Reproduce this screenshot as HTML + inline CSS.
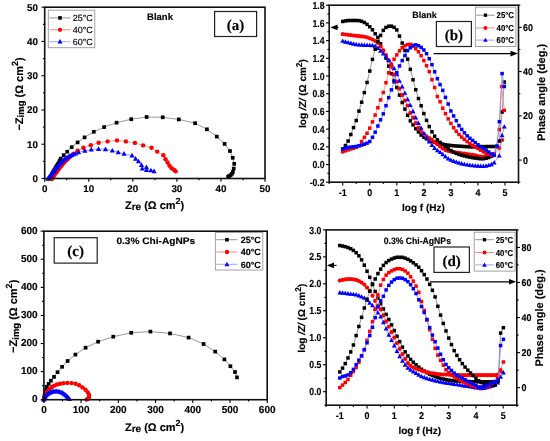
<!DOCTYPE html>
<html><head><meta charset="utf-8"><style>
html,body{margin:0;padding:0;background:#fff;}
svg{display:block;filter:blur(0.5px);}
text{stroke:#000;stroke-width:0.15px;text-rendering:geometricPrecision;}
</style></head><body>
<svg width="550" height="441" viewBox="0 0 550 441">
<rect width="550" height="441" fill="#fff"/>
<path d="M49.59 178.40L50.35 177.00L51.12 175.60L51.89 174.20L52.65 172.80L53.42 171.40L54.29 170.00L55.15 168.50L56.02 167.00L56.98 165.50L57.95 164.00L59.01 162.40L59.78 160.60L60.78 158.60L63.70 155.20L67.20 151.70L71.70 147.20L77.60 142.40L84.60 137.40L93.80 131.80L104.10 127.10L116.60 122.70L131.20 119.20L146.60 117.00L162.70 117.30L178.80 119.40L195.10 123.20L206.90 129.30L216.80 136.60L224.60 143.90L230.00 151.00L232.70 157.80L234.20 163.80L233.70 168.60L232.90 171.90L231.90 173.80L230.50 175.20L229.00 176.20L228.10 176.80" fill="none" stroke="#777" stroke-width="0.75"/>
<rect x="47.74" y="176.55" width="3.70" height="3.70" fill="#000"/>
<rect x="48.50" y="175.15" width="3.70" height="3.70" fill="#000"/>
<rect x="49.27" y="173.75" width="3.70" height="3.70" fill="#000"/>
<rect x="50.04" y="172.35" width="3.70" height="3.70" fill="#000"/>
<rect x="50.80" y="170.95" width="3.70" height="3.70" fill="#000"/>
<rect x="51.57" y="169.55" width="3.70" height="3.70" fill="#000"/>
<rect x="52.44" y="168.15" width="3.70" height="3.70" fill="#000"/>
<rect x="53.30" y="166.65" width="3.70" height="3.70" fill="#000"/>
<rect x="54.17" y="165.15" width="3.70" height="3.70" fill="#000"/>
<rect x="55.13" y="163.65" width="3.70" height="3.70" fill="#000"/>
<rect x="56.10" y="162.15" width="3.70" height="3.70" fill="#000"/>
<rect x="57.16" y="160.55" width="3.70" height="3.70" fill="#000"/>
<rect x="57.93" y="158.75" width="3.70" height="3.70" fill="#000"/>
<rect x="58.93" y="156.75" width="3.70" height="3.70" fill="#000"/>
<rect x="61.85" y="153.35" width="3.70" height="3.70" fill="#000"/>
<rect x="65.35" y="149.85" width="3.70" height="3.70" fill="#000"/>
<rect x="69.85" y="145.35" width="3.70" height="3.70" fill="#000"/>
<rect x="75.75" y="140.55" width="3.70" height="3.70" fill="#000"/>
<rect x="82.75" y="135.55" width="3.70" height="3.70" fill="#000"/>
<rect x="91.95" y="129.95" width="3.70" height="3.70" fill="#000"/>
<rect x="102.25" y="125.25" width="3.70" height="3.70" fill="#000"/>
<rect x="114.75" y="120.85" width="3.70" height="3.70" fill="#000"/>
<rect x="129.35" y="117.35" width="3.70" height="3.70" fill="#000"/>
<rect x="144.75" y="115.15" width="3.70" height="3.70" fill="#000"/>
<rect x="160.85" y="115.45" width="3.70" height="3.70" fill="#000"/>
<rect x="176.95" y="117.55" width="3.70" height="3.70" fill="#000"/>
<rect x="193.25" y="121.35" width="3.70" height="3.70" fill="#000"/>
<rect x="205.05" y="127.45" width="3.70" height="3.70" fill="#000"/>
<rect x="214.95" y="134.75" width="3.70" height="3.70" fill="#000"/>
<rect x="222.75" y="142.05" width="3.70" height="3.70" fill="#000"/>
<rect x="228.15" y="149.15" width="3.70" height="3.70" fill="#000"/>
<rect x="230.85" y="155.95" width="3.70" height="3.70" fill="#000"/>
<rect x="232.35" y="161.95" width="3.70" height="3.70" fill="#000"/>
<rect x="231.85" y="166.75" width="3.70" height="3.70" fill="#000"/>
<rect x="231.05" y="170.05" width="3.70" height="3.70" fill="#000"/>
<rect x="230.05" y="171.95" width="3.70" height="3.70" fill="#000"/>
<rect x="228.65" y="173.35" width="3.70" height="3.70" fill="#000"/>
<rect x="227.15" y="174.35" width="3.70" height="3.70" fill="#000"/>
<rect x="226.25" y="174.95" width="3.70" height="3.70" fill="#000"/>
<path d="M51.80 179.00L52.60 177.70L53.50 176.30L54.40 175.00L55.40 173.60L56.40 172.20L57.50 170.80L58.60 169.30L59.70 167.80L60.90 166.30L62.10 164.80L63.40 163.30L64.80 161.80L66.30 160.30L67.90 158.80L69.60 157.20L71.50 155.60L73.80 153.60L77.60 150.60L83.40 147.70L90.80 145.30L98.60 142.80L107.60 141.40L117.00 140.40L125.90 141.40L134.90 142.90L143.20 145.40L151.50 147.80L157.20 151.60L163.30 155.30L165.50 159.20L167.60 162.50L169.50 165.70L171.60 168.20L173.90 169.80L175.60 171.30" fill="none" stroke="#f77" stroke-width="0.75"/>
<circle cx="51.80" cy="179.00" r="2.22" fill="#f00"/>
<circle cx="52.60" cy="177.70" r="2.22" fill="#f00"/>
<circle cx="53.50" cy="176.30" r="2.22" fill="#f00"/>
<circle cx="54.40" cy="175.00" r="2.22" fill="#f00"/>
<circle cx="55.40" cy="173.60" r="2.22" fill="#f00"/>
<circle cx="56.40" cy="172.20" r="2.22" fill="#f00"/>
<circle cx="57.50" cy="170.80" r="2.22" fill="#f00"/>
<circle cx="58.60" cy="169.30" r="2.22" fill="#f00"/>
<circle cx="59.70" cy="167.80" r="2.22" fill="#f00"/>
<circle cx="60.90" cy="166.30" r="2.22" fill="#f00"/>
<circle cx="62.10" cy="164.80" r="2.22" fill="#f00"/>
<circle cx="63.40" cy="163.30" r="2.22" fill="#f00"/>
<circle cx="64.80" cy="161.80" r="2.22" fill="#f00"/>
<circle cx="66.30" cy="160.30" r="2.22" fill="#f00"/>
<circle cx="67.90" cy="158.80" r="2.22" fill="#f00"/>
<circle cx="69.60" cy="157.20" r="2.22" fill="#f00"/>
<circle cx="71.50" cy="155.60" r="2.22" fill="#f00"/>
<circle cx="73.80" cy="153.60" r="2.22" fill="#f00"/>
<circle cx="77.60" cy="150.60" r="2.22" fill="#f00"/>
<circle cx="83.40" cy="147.70" r="2.22" fill="#f00"/>
<circle cx="90.80" cy="145.30" r="2.22" fill="#f00"/>
<circle cx="98.60" cy="142.80" r="2.22" fill="#f00"/>
<circle cx="107.60" cy="141.40" r="2.22" fill="#f00"/>
<circle cx="117.00" cy="140.40" r="2.22" fill="#f00"/>
<circle cx="125.90" cy="141.40" r="2.22" fill="#f00"/>
<circle cx="134.90" cy="142.90" r="2.22" fill="#f00"/>
<circle cx="143.20" cy="145.40" r="2.22" fill="#f00"/>
<circle cx="151.50" cy="147.80" r="2.22" fill="#f00"/>
<circle cx="157.20" cy="151.60" r="2.22" fill="#f00"/>
<circle cx="163.30" cy="155.30" r="2.22" fill="#f00"/>
<circle cx="165.50" cy="159.20" r="2.22" fill="#f00"/>
<circle cx="167.60" cy="162.50" r="2.22" fill="#f00"/>
<circle cx="169.50" cy="165.70" r="2.22" fill="#f00"/>
<circle cx="171.60" cy="168.20" r="2.22" fill="#f00"/>
<circle cx="173.90" cy="169.80" r="2.22" fill="#f00"/>
<circle cx="175.60" cy="171.30" r="2.22" fill="#f00"/>
<path d="M47.90 178.70L48.90 177.60L50.00 176.50L50.70 175.40L51.50 174.30L52.30 173.10L53.10 172.00L53.90 170.80L54.80 169.70L55.70 168.50L56.60 167.40L57.50 166.20L58.50 165.10L59.50 163.90L60.60 162.80L61.70 161.70" fill="none" stroke="#00f" stroke-width="2.8" stroke-linecap="round" stroke-linejoin="round"/>
<path d="M47.90 178.70L48.90 177.60L50.00 176.50L50.70 175.40L51.50 174.30L52.30 173.10L53.10 172.00L53.90 170.80L54.80 169.70L55.70 168.50L56.60 167.40L57.50 166.20L58.50 165.10L59.50 163.90L60.60 162.80L61.70 161.70L62.90 160.60L64.10 159.60L65.40 158.60L66.80 157.60L68.30 156.70L69.90 155.90L71.60 155.10L73.40 154.40L75.60 153.60L78.60 152.40L84.90 150.80L91.30 149.60L98.50 149.00L105.50 149.20L112.30 150.60L118.20 152.20L124.00 153.80L132.00 155.50L135.60 158.70L138.50 161.40L141.50 165.00L142.20 168.60L146.50 167.20L146.50 170.10L150.90 170.40L154.10 171.30" fill="none" stroke="#77f" stroke-width="0.75"/>
<path d="M47.90 175.99L50.49 180.66L45.31 180.66Z" fill="#00f"/>
<path d="M48.90 174.89L51.49 179.56L46.31 179.56Z" fill="#00f"/>
<path d="M50.00 173.79L52.59 178.46L47.41 178.46Z" fill="#00f"/>
<path d="M50.70 172.69L53.29 177.36L48.11 177.36Z" fill="#00f"/>
<path d="M51.50 171.59L54.09 176.26L48.91 176.26Z" fill="#00f"/>
<path d="M52.30 170.39L54.89 175.06L49.71 175.06Z" fill="#00f"/>
<path d="M53.10 169.29L55.69 173.96L50.51 173.96Z" fill="#00f"/>
<path d="M53.90 168.09L56.49 172.76L51.31 172.76Z" fill="#00f"/>
<path d="M54.80 166.99L57.39 171.66L52.21 171.66Z" fill="#00f"/>
<path d="M55.70 165.79L58.29 170.46L53.11 170.46Z" fill="#00f"/>
<path d="M56.60 164.69L59.19 169.36L54.01 169.36Z" fill="#00f"/>
<path d="M57.50 163.49L60.09 168.16L54.91 168.16Z" fill="#00f"/>
<path d="M58.50 162.39L61.09 167.06L55.91 167.06Z" fill="#00f"/>
<path d="M59.50 161.19L62.09 165.86L56.91 165.86Z" fill="#00f"/>
<path d="M60.60 160.09L63.19 164.76L58.01 164.76Z" fill="#00f"/>
<path d="M61.70 158.99L64.29 163.66L59.11 163.66Z" fill="#00f"/>
<path d="M62.90 157.89L65.49 162.56L60.31 162.56Z" fill="#00f"/>
<path d="M64.10 156.89L66.69 161.56L61.51 161.56Z" fill="#00f"/>
<path d="M65.40 155.89L67.99 160.56L62.81 160.56Z" fill="#00f"/>
<path d="M66.80 154.89L69.39 159.56L64.21 159.56Z" fill="#00f"/>
<path d="M68.30 153.99L70.89 158.66L65.71 158.66Z" fill="#00f"/>
<path d="M69.90 153.19L72.49 157.86L67.31 157.86Z" fill="#00f"/>
<path d="M71.60 152.39L74.19 157.06L69.01 157.06Z" fill="#00f"/>
<path d="M73.40 151.69L75.99 156.36L70.81 156.36Z" fill="#00f"/>
<path d="M75.60 150.89L78.19 155.56L73.01 155.56Z" fill="#00f"/>
<path d="M78.60 149.69L81.19 154.36L76.01 154.36Z" fill="#00f"/>
<path d="M84.90 148.09L87.49 152.76L82.31 152.76Z" fill="#00f"/>
<path d="M91.30 146.89L93.89 151.56L88.71 151.56Z" fill="#00f"/>
<path d="M98.50 146.29L101.09 150.96L95.91 150.96Z" fill="#00f"/>
<path d="M105.50 146.49L108.09 151.16L102.91 151.16Z" fill="#00f"/>
<path d="M112.30 147.89L114.89 152.56L109.71 152.56Z" fill="#00f"/>
<path d="M118.20 149.49L120.79 154.16L115.61 154.16Z" fill="#00f"/>
<path d="M124.00 151.09L126.59 155.76L121.41 155.76Z" fill="#00f"/>
<path d="M132.00 152.79L134.59 157.46L129.41 157.46Z" fill="#00f"/>
<path d="M135.60 155.99L138.19 160.66L133.01 160.66Z" fill="#00f"/>
<path d="M138.50 158.69L141.09 163.36L135.91 163.36Z" fill="#00f"/>
<path d="M141.50 162.29L144.09 166.96L138.91 166.96Z" fill="#00f"/>
<path d="M142.20 165.89L144.79 170.56L139.61 170.56Z" fill="#00f"/>
<path d="M146.50 164.49L149.09 169.16L143.91 169.16Z" fill="#00f"/>
<path d="M146.50 167.39L149.09 172.06L143.91 172.06Z" fill="#00f"/>
<path d="M150.90 167.69L153.49 172.36L148.31 172.36Z" fill="#00f"/>
<path d="M154.10 168.59L156.69 173.26L151.51 173.26Z" fill="#00f"/>
<path d="M43.80 399.50L44.20 397.20L44.70 394.80L45.30 392.30L46.00 389.60L46.80 386.70L48.70 383.80L50.90 380.70L54.00 376.90L57.50 372.20L62.10 366.80L67.60 361.00L75.40 354.60L85.60 347.70L98.10 341.70L113.30 336.70L131.20 332.80L150.40 331.60L170.00 333.40L188.60 337.60L203.60 344.00L215.20 351.60L224.40 359.40L230.40 366.20L235.00 372.00L237.00 377.40" fill="none" stroke="#777" stroke-width="0.75"/>
<rect x="41.95" y="397.65" width="3.70" height="3.70" fill="#000"/>
<rect x="42.35" y="395.35" width="3.70" height="3.70" fill="#000"/>
<rect x="42.85" y="392.95" width="3.70" height="3.70" fill="#000"/>
<rect x="43.45" y="390.45" width="3.70" height="3.70" fill="#000"/>
<rect x="44.15" y="387.75" width="3.70" height="3.70" fill="#000"/>
<rect x="44.95" y="384.85" width="3.70" height="3.70" fill="#000"/>
<rect x="46.85" y="381.95" width="3.70" height="3.70" fill="#000"/>
<rect x="49.05" y="378.85" width="3.70" height="3.70" fill="#000"/>
<rect x="52.15" y="375.05" width="3.70" height="3.70" fill="#000"/>
<rect x="55.65" y="370.35" width="3.70" height="3.70" fill="#000"/>
<rect x="60.25" y="364.95" width="3.70" height="3.70" fill="#000"/>
<rect x="65.75" y="359.15" width="3.70" height="3.70" fill="#000"/>
<rect x="73.55" y="352.75" width="3.70" height="3.70" fill="#000"/>
<rect x="83.75" y="345.85" width="3.70" height="3.70" fill="#000"/>
<rect x="96.25" y="339.85" width="3.70" height="3.70" fill="#000"/>
<rect x="111.45" y="334.85" width="3.70" height="3.70" fill="#000"/>
<rect x="129.35" y="330.95" width="3.70" height="3.70" fill="#000"/>
<rect x="148.55" y="329.75" width="3.70" height="3.70" fill="#000"/>
<rect x="168.15" y="331.55" width="3.70" height="3.70" fill="#000"/>
<rect x="186.75" y="335.75" width="3.70" height="3.70" fill="#000"/>
<rect x="201.75" y="342.15" width="3.70" height="3.70" fill="#000"/>
<rect x="213.35" y="349.75" width="3.70" height="3.70" fill="#000"/>
<rect x="222.55" y="357.55" width="3.70" height="3.70" fill="#000"/>
<rect x="228.55" y="364.35" width="3.70" height="3.70" fill="#000"/>
<rect x="233.15" y="370.15" width="3.70" height="3.70" fill="#000"/>
<rect x="235.15" y="375.55" width="3.70" height="3.70" fill="#000"/>
<path d="M44.00 399.20L44.60 397.00L45.50 394.80L46.70 392.60L48.20 390.50L50.00 388.60L52.00 387.00L54.30 385.60L57.00 384.50L60.00 383.70L63.30 383.20L67.30 382.90L71.50 383.10L75.50 383.80L79.20 385.30L82.50 387.40L85.50 389.80L87.80 392.40L89.10 395.00L89.00 397.30L87.90 398.80L86.50 399.60" fill="none" stroke="#f77" stroke-width="0.75"/>
<circle cx="44.00" cy="399.20" r="2.22" fill="#f00"/>
<circle cx="44.60" cy="397.00" r="2.22" fill="#f00"/>
<circle cx="45.50" cy="394.80" r="2.22" fill="#f00"/>
<circle cx="46.70" cy="392.60" r="2.22" fill="#f00"/>
<circle cx="48.20" cy="390.50" r="2.22" fill="#f00"/>
<circle cx="50.00" cy="388.60" r="2.22" fill="#f00"/>
<circle cx="52.00" cy="387.00" r="2.22" fill="#f00"/>
<circle cx="54.30" cy="385.60" r="2.22" fill="#f00"/>
<circle cx="57.00" cy="384.50" r="2.22" fill="#f00"/>
<circle cx="60.00" cy="383.70" r="2.22" fill="#f00"/>
<circle cx="63.30" cy="383.20" r="2.22" fill="#f00"/>
<circle cx="67.30" cy="382.90" r="2.22" fill="#f00"/>
<circle cx="71.50" cy="383.10" r="2.22" fill="#f00"/>
<circle cx="75.50" cy="383.80" r="2.22" fill="#f00"/>
<circle cx="79.20" cy="385.30" r="2.22" fill="#f00"/>
<circle cx="82.50" cy="387.40" r="2.22" fill="#f00"/>
<circle cx="85.50" cy="389.80" r="2.22" fill="#f00"/>
<circle cx="87.80" cy="392.40" r="2.22" fill="#f00"/>
<circle cx="89.10" cy="395.00" r="2.22" fill="#f00"/>
<circle cx="89.00" cy="397.30" r="2.22" fill="#f00"/>
<circle cx="87.90" cy="398.80" r="2.22" fill="#f00"/>
<circle cx="86.50" cy="399.60" r="2.22" fill="#f00"/>
<path d="M43.60 399.60L44.00 398.50L44.60 397.40L45.30 396.30L46.20 395.30L47.20 394.30L48.30 393.50L49.50 392.80L50.80 392.20L52.20 391.70L53.60 391.40L55.10 391.20L56.60 391.20L58.10 391.40L59.60 391.70L61.00 392.20L62.40 392.80L63.70 393.60L64.90 394.50L66.00 395.40L67.00 396.40L67.90 397.40L68.70 398.30L69.50 399.10" fill="none" stroke="#77f" stroke-width="0.75"/>
<path d="M43.60 396.89L46.19 401.56L41.01 401.56Z" fill="#00f"/>
<path d="M44.00 395.79L46.59 400.46L41.41 400.46Z" fill="#00f"/>
<path d="M44.60 394.69L47.19 399.36L42.01 399.36Z" fill="#00f"/>
<path d="M45.30 393.59L47.89 398.26L42.71 398.26Z" fill="#00f"/>
<path d="M46.20 392.59L48.79 397.26L43.61 397.26Z" fill="#00f"/>
<path d="M47.20 391.59L49.79 396.26L44.61 396.26Z" fill="#00f"/>
<path d="M48.30 390.79L50.89 395.46L45.71 395.46Z" fill="#00f"/>
<path d="M49.50 390.09L52.09 394.76L46.91 394.76Z" fill="#00f"/>
<path d="M50.80 389.49L53.39 394.16L48.21 394.16Z" fill="#00f"/>
<path d="M52.20 388.99L54.79 393.66L49.61 393.66Z" fill="#00f"/>
<path d="M53.60 388.69L56.19 393.36L51.01 393.36Z" fill="#00f"/>
<path d="M55.10 388.49L57.69 393.16L52.51 393.16Z" fill="#00f"/>
<path d="M56.60 388.49L59.19 393.16L54.01 393.16Z" fill="#00f"/>
<path d="M58.10 388.69L60.69 393.36L55.51 393.36Z" fill="#00f"/>
<path d="M59.60 388.99L62.19 393.66L57.01 393.66Z" fill="#00f"/>
<path d="M61.00 389.49L63.59 394.16L58.41 394.16Z" fill="#00f"/>
<path d="M62.40 390.09L64.99 394.76L59.81 394.76Z" fill="#00f"/>
<path d="M63.70 390.89L66.29 395.56L61.11 395.56Z" fill="#00f"/>
<path d="M64.90 391.79L67.49 396.46L62.31 396.46Z" fill="#00f"/>
<path d="M66.00 392.69L68.59 397.36L63.41 397.36Z" fill="#00f"/>
<path d="M67.00 393.69L69.59 398.36L64.41 398.36Z" fill="#00f"/>
<path d="M67.90 394.69L70.49 399.36L65.31 399.36Z" fill="#00f"/>
<path d="M68.70 395.59L71.29 400.26L66.11 400.26Z" fill="#00f"/>
<path d="M69.50 396.39L72.09 401.06L66.91 401.06Z" fill="#00f"/>
<path d="M342.72 21.46L345.43 20.90L348.13 20.55L350.83 20.50L353.54 20.50L356.24 20.50L358.95 20.62L361.65 21.34L364.36 22.51L367.06 24.39L369.76 26.76L372.47 29.86L375.17 33.78L377.88 37.45L380.58 43.78L383.29 50.70L385.99 58.10L388.69 66.14L391.40 73.70L394.10 80.54L396.81 87.48L399.51 95.12L402.22 102.53L404.92 109.10L407.62 115.27L410.33 120.85L413.03 124.79L415.74 128.67L418.44 131.97L421.15 135.09L423.85 137.13L426.55 138.84L429.26 140.28L431.96 141.46L434.67 142.41L437.37 143.15L440.08 143.75L442.78 144.28L445.48 144.77L448.19 145.16L450.89 145.47L453.60 145.73L456.30 145.95L459.01 146.14L461.71 146.34L464.41 146.53L467.12 146.69L469.82 146.82L472.53 146.89L475.23 146.89L477.94 146.85L480.64 146.76L483.34 146.67L486.05 146.58L488.75 146.52L491.46 146.50L494.16 146.53L496.87 146.60" fill="none" stroke="#777" stroke-width="0.75"/>
<rect x="340.97" y="19.71" width="3.50" height="3.50" fill="#000"/>
<rect x="343.68" y="19.15" width="3.50" height="3.50" fill="#000"/>
<rect x="346.38" y="18.80" width="3.50" height="3.50" fill="#000"/>
<rect x="349.08" y="18.75" width="3.50" height="3.50" fill="#000"/>
<rect x="351.79" y="18.75" width="3.50" height="3.50" fill="#000"/>
<rect x="354.49" y="18.75" width="3.50" height="3.50" fill="#000"/>
<rect x="357.20" y="18.87" width="3.50" height="3.50" fill="#000"/>
<rect x="359.90" y="19.59" width="3.50" height="3.50" fill="#000"/>
<rect x="362.61" y="20.76" width="3.50" height="3.50" fill="#000"/>
<rect x="365.31" y="22.64" width="3.50" height="3.50" fill="#000"/>
<rect x="368.01" y="25.01" width="3.50" height="3.50" fill="#000"/>
<rect x="370.72" y="28.11" width="3.50" height="3.50" fill="#000"/>
<rect x="373.42" y="32.03" width="3.50" height="3.50" fill="#000"/>
<rect x="376.13" y="35.70" width="3.50" height="3.50" fill="#000"/>
<rect x="378.83" y="42.03" width="3.50" height="3.50" fill="#000"/>
<rect x="381.54" y="48.95" width="3.50" height="3.50" fill="#000"/>
<rect x="384.24" y="56.35" width="3.50" height="3.50" fill="#000"/>
<rect x="386.94" y="64.39" width="3.50" height="3.50" fill="#000"/>
<rect x="389.65" y="71.95" width="3.50" height="3.50" fill="#000"/>
<rect x="392.35" y="78.79" width="3.50" height="3.50" fill="#000"/>
<rect x="395.06" y="85.73" width="3.50" height="3.50" fill="#000"/>
<rect x="397.76" y="93.37" width="3.50" height="3.50" fill="#000"/>
<rect x="400.47" y="100.78" width="3.50" height="3.50" fill="#000"/>
<rect x="403.17" y="107.35" width="3.50" height="3.50" fill="#000"/>
<rect x="405.87" y="113.52" width="3.50" height="3.50" fill="#000"/>
<rect x="408.58" y="119.10" width="3.50" height="3.50" fill="#000"/>
<rect x="411.28" y="123.04" width="3.50" height="3.50" fill="#000"/>
<rect x="413.99" y="126.92" width="3.50" height="3.50" fill="#000"/>
<rect x="416.69" y="130.22" width="3.50" height="3.50" fill="#000"/>
<rect x="419.40" y="133.34" width="3.50" height="3.50" fill="#000"/>
<rect x="422.10" y="135.38" width="3.50" height="3.50" fill="#000"/>
<rect x="424.80" y="137.09" width="3.50" height="3.50" fill="#000"/>
<rect x="427.51" y="138.53" width="3.50" height="3.50" fill="#000"/>
<rect x="430.21" y="139.71" width="3.50" height="3.50" fill="#000"/>
<rect x="432.92" y="140.66" width="3.50" height="3.50" fill="#000"/>
<rect x="435.62" y="141.40" width="3.50" height="3.50" fill="#000"/>
<rect x="438.33" y="142.00" width="3.50" height="3.50" fill="#000"/>
<rect x="441.03" y="142.53" width="3.50" height="3.50" fill="#000"/>
<rect x="443.73" y="143.02" width="3.50" height="3.50" fill="#000"/>
<rect x="446.44" y="143.41" width="3.50" height="3.50" fill="#000"/>
<rect x="449.14" y="143.72" width="3.50" height="3.50" fill="#000"/>
<rect x="451.85" y="143.98" width="3.50" height="3.50" fill="#000"/>
<rect x="454.55" y="144.20" width="3.50" height="3.50" fill="#000"/>
<rect x="457.26" y="144.39" width="3.50" height="3.50" fill="#000"/>
<rect x="459.96" y="144.59" width="3.50" height="3.50" fill="#000"/>
<rect x="462.66" y="144.78" width="3.50" height="3.50" fill="#000"/>
<rect x="465.37" y="144.94" width="3.50" height="3.50" fill="#000"/>
<rect x="468.07" y="145.07" width="3.50" height="3.50" fill="#000"/>
<rect x="470.78" y="145.14" width="3.50" height="3.50" fill="#000"/>
<rect x="473.48" y="145.14" width="3.50" height="3.50" fill="#000"/>
<rect x="476.19" y="145.10" width="3.50" height="3.50" fill="#000"/>
<rect x="478.89" y="145.01" width="3.50" height="3.50" fill="#000"/>
<rect x="481.59" y="144.92" width="3.50" height="3.50" fill="#000"/>
<rect x="484.30" y="144.83" width="3.50" height="3.50" fill="#000"/>
<rect x="487.00" y="144.77" width="3.50" height="3.50" fill="#000"/>
<rect x="489.71" y="144.75" width="3.50" height="3.50" fill="#000"/>
<rect x="492.41" y="144.78" width="3.50" height="3.50" fill="#000"/>
<rect x="495.12" y="144.85" width="3.50" height="3.50" fill="#000"/>
<path d="M342.72 34.14L345.43 34.49L348.13 34.84L350.83 35.18L353.54 35.51L356.24 35.83L358.95 36.15L361.65 36.44L364.36 36.77L367.06 37.33L369.76 38.28L372.47 39.48L375.17 41.02L377.88 43.00L380.58 46.40L383.29 50.25L385.99 54.98L388.69 60.44L391.40 66.97L394.10 74.63L396.81 81.57L399.51 88.54L402.22 95.13L404.92 100.59L407.62 105.48L410.33 112.97L413.03 117.65L415.74 123.16L418.44 127.80L421.15 131.09L423.85 134.01L426.55 136.36L429.26 138.07L431.96 139.97L434.67 142.01L437.37 144.21L440.08 146.46L442.78 148.44L445.48 150.09L448.19 150.98L450.89 151.58L453.60 152.07L456.30 152.48L459.01 152.86L461.71 153.26L464.41 153.67L467.12 154.09L469.82 154.50L472.53 154.93L475.23 155.42L477.94 156.00L480.64 156.51L483.34 156.79L486.05 156.72L488.75 156.39L491.46 155.89L494.16 154.67L499.40 148.00L502.10 140.00" fill="none" stroke="#f77" stroke-width="0.75"/>
<circle cx="342.72" cy="34.14" r="2.10" fill="#f00"/>
<circle cx="345.43" cy="34.49" r="2.10" fill="#f00"/>
<circle cx="348.13" cy="34.84" r="2.10" fill="#f00"/>
<circle cx="350.83" cy="35.18" r="2.10" fill="#f00"/>
<circle cx="353.54" cy="35.51" r="2.10" fill="#f00"/>
<circle cx="356.24" cy="35.83" r="2.10" fill="#f00"/>
<circle cx="358.95" cy="36.15" r="2.10" fill="#f00"/>
<circle cx="361.65" cy="36.44" r="2.10" fill="#f00"/>
<circle cx="364.36" cy="36.77" r="2.10" fill="#f00"/>
<circle cx="367.06" cy="37.33" r="2.10" fill="#f00"/>
<circle cx="369.76" cy="38.28" r="2.10" fill="#f00"/>
<circle cx="372.47" cy="39.48" r="2.10" fill="#f00"/>
<circle cx="375.17" cy="41.02" r="2.10" fill="#f00"/>
<circle cx="377.88" cy="43.00" r="2.10" fill="#f00"/>
<circle cx="380.58" cy="46.40" r="2.10" fill="#f00"/>
<circle cx="383.29" cy="50.25" r="2.10" fill="#f00"/>
<circle cx="385.99" cy="54.98" r="2.10" fill="#f00"/>
<circle cx="388.69" cy="60.44" r="2.10" fill="#f00"/>
<circle cx="391.40" cy="66.97" r="2.10" fill="#f00"/>
<circle cx="394.10" cy="74.63" r="2.10" fill="#f00"/>
<circle cx="396.81" cy="81.57" r="2.10" fill="#f00"/>
<circle cx="399.51" cy="88.54" r="2.10" fill="#f00"/>
<circle cx="402.22" cy="95.13" r="2.10" fill="#f00"/>
<circle cx="404.92" cy="100.59" r="2.10" fill="#f00"/>
<circle cx="407.62" cy="105.48" r="2.10" fill="#f00"/>
<circle cx="410.33" cy="112.97" r="2.10" fill="#f00"/>
<circle cx="413.03" cy="117.65" r="2.10" fill="#f00"/>
<circle cx="415.74" cy="123.16" r="2.10" fill="#f00"/>
<circle cx="418.44" cy="127.80" r="2.10" fill="#f00"/>
<circle cx="421.15" cy="131.09" r="2.10" fill="#f00"/>
<circle cx="423.85" cy="134.01" r="2.10" fill="#f00"/>
<circle cx="426.55" cy="136.36" r="2.10" fill="#f00"/>
<circle cx="429.26" cy="138.07" r="2.10" fill="#f00"/>
<circle cx="431.96" cy="139.97" r="2.10" fill="#f00"/>
<circle cx="434.67" cy="142.01" r="2.10" fill="#f00"/>
<circle cx="437.37" cy="144.21" r="2.10" fill="#f00"/>
<circle cx="440.08" cy="146.46" r="2.10" fill="#f00"/>
<circle cx="442.78" cy="148.44" r="2.10" fill="#f00"/>
<circle cx="445.48" cy="150.09" r="2.10" fill="#f00"/>
<circle cx="448.19" cy="150.98" r="2.10" fill="#f00"/>
<circle cx="450.89" cy="151.58" r="2.10" fill="#f00"/>
<circle cx="453.60" cy="152.07" r="2.10" fill="#f00"/>
<circle cx="456.30" cy="152.48" r="2.10" fill="#f00"/>
<circle cx="459.01" cy="152.86" r="2.10" fill="#f00"/>
<circle cx="461.71" cy="153.26" r="2.10" fill="#f00"/>
<circle cx="464.41" cy="153.67" r="2.10" fill="#f00"/>
<circle cx="467.12" cy="154.09" r="2.10" fill="#f00"/>
<circle cx="469.82" cy="154.50" r="2.10" fill="#f00"/>
<circle cx="472.53" cy="154.93" r="2.10" fill="#f00"/>
<circle cx="475.23" cy="155.42" r="2.10" fill="#f00"/>
<circle cx="477.94" cy="156.00" r="2.10" fill="#f00"/>
<circle cx="480.64" cy="156.51" r="2.10" fill="#f00"/>
<circle cx="483.34" cy="156.79" r="2.10" fill="#f00"/>
<circle cx="486.05" cy="156.72" r="2.10" fill="#f00"/>
<circle cx="488.75" cy="156.39" r="2.10" fill="#f00"/>
<circle cx="491.46" cy="155.89" r="2.10" fill="#f00"/>
<circle cx="494.16" cy="154.67" r="2.10" fill="#f00"/>
<circle cx="499.40" cy="148.00" r="2.10" fill="#f00"/>
<circle cx="502.10" cy="140.00" r="2.10" fill="#f00"/>
<path d="M342.72 41.01L345.43 41.79L348.13 42.50L350.83 43.14L353.54 43.79L356.24 44.36L358.95 44.75L361.65 44.92L364.36 45.03L367.06 45.12L369.76 45.24L372.47 45.37L375.17 45.97L377.88 48.04L380.58 50.78L383.29 53.74L385.99 56.87L388.69 60.29L391.40 63.95L394.10 68.32L396.81 74.41L399.51 80.94L402.22 86.55L404.92 92.99L407.62 99.38L410.33 105.24L413.03 111.40L415.74 117.58L418.44 123.14L421.15 128.00L423.85 133.23L426.55 137.54L429.26 141.70L431.96 145.12L434.67 148.07L437.37 150.50L440.08 152.21L442.78 154.28L445.48 156.64L448.19 158.63L450.89 159.96L453.60 161.05L456.30 161.98L459.01 162.81L461.71 163.56L464.41 164.19L467.12 164.69L469.82 165.12L472.53 165.46L475.23 165.70L477.94 165.92L480.64 166.07L483.34 166.08L486.05 165.78L488.75 165.23L491.46 164.28L494.16 162.57L499.30 155.70L502.10 135.30L504.30 126.70" fill="none" stroke="#77f" stroke-width="0.75"/>
<path d="M342.72 38.45L345.17 42.87L340.27 42.87Z" fill="#00f"/>
<path d="M345.43 39.23L347.88 43.65L342.98 43.65Z" fill="#00f"/>
<path d="M348.13 39.94L350.58 44.36L345.68 44.36Z" fill="#00f"/>
<path d="M350.83 40.58L353.28 45.00L348.38 45.00Z" fill="#00f"/>
<path d="M353.54 41.23L355.99 45.64L351.09 45.64Z" fill="#00f"/>
<path d="M356.24 41.80L358.69 46.22L353.79 46.22Z" fill="#00f"/>
<path d="M358.95 42.18L361.40 46.60L356.50 46.60Z" fill="#00f"/>
<path d="M361.65 42.36L364.10 46.78L359.20 46.78Z" fill="#00f"/>
<path d="M364.36 42.47L366.81 46.89L361.91 46.89Z" fill="#00f"/>
<path d="M367.06 42.56L369.51 46.98L364.61 46.98Z" fill="#00f"/>
<path d="M369.76 42.68L372.21 47.10L367.31 47.10Z" fill="#00f"/>
<path d="M372.47 42.81L374.92 47.23L370.02 47.23Z" fill="#00f"/>
<path d="M375.17 43.41L377.62 47.83L372.72 47.83Z" fill="#00f"/>
<path d="M377.88 45.48L380.33 49.90L375.43 49.90Z" fill="#00f"/>
<path d="M380.58 48.22L383.03 52.64L378.13 52.64Z" fill="#00f"/>
<path d="M383.29 51.18L385.74 55.60L380.84 55.60Z" fill="#00f"/>
<path d="M385.99 54.31L388.44 58.73L383.54 58.73Z" fill="#00f"/>
<path d="M388.69 57.72L391.14 62.14L386.24 62.14Z" fill="#00f"/>
<path d="M391.40 61.39L393.85 65.81L388.95 65.81Z" fill="#00f"/>
<path d="M394.10 65.76L396.55 70.18L391.65 70.18Z" fill="#00f"/>
<path d="M396.81 71.85L399.26 76.27L394.36 76.27Z" fill="#00f"/>
<path d="M399.51 78.38L401.96 82.80L397.06 82.80Z" fill="#00f"/>
<path d="M402.22 83.99L404.67 88.41L399.77 88.41Z" fill="#00f"/>
<path d="M404.92 90.43L407.37 94.85L402.47 94.85Z" fill="#00f"/>
<path d="M407.62 96.82L410.07 101.24L405.17 101.24Z" fill="#00f"/>
<path d="M410.33 102.68L412.78 107.10L407.88 107.10Z" fill="#00f"/>
<path d="M413.03 108.84L415.48 113.26L410.58 113.26Z" fill="#00f"/>
<path d="M415.74 115.02L418.19 119.44L413.29 119.44Z" fill="#00f"/>
<path d="M418.44 120.57L420.89 124.99L415.99 124.99Z" fill="#00f"/>
<path d="M421.15 125.44L423.60 129.86L418.70 129.86Z" fill="#00f"/>
<path d="M423.85 130.67L426.30 135.08L421.40 135.08Z" fill="#00f"/>
<path d="M426.55 134.98L429.00 139.40L424.10 139.40Z" fill="#00f"/>
<path d="M429.26 139.13L431.71 143.55L426.81 143.55Z" fill="#00f"/>
<path d="M431.96 142.56L434.41 146.98L429.51 146.98Z" fill="#00f"/>
<path d="M434.67 145.51L437.12 149.93L432.22 149.93Z" fill="#00f"/>
<path d="M437.37 147.94L439.82 152.36L434.92 152.36Z" fill="#00f"/>
<path d="M440.08 149.65L442.53 154.07L437.63 154.07Z" fill="#00f"/>
<path d="M442.78 151.72L445.23 156.14L440.33 156.14Z" fill="#00f"/>
<path d="M445.48 154.08L447.93 158.50L443.03 158.50Z" fill="#00f"/>
<path d="M448.19 156.07L450.64 160.48L445.74 160.48Z" fill="#00f"/>
<path d="M450.89 157.40L453.34 161.82L448.44 161.82Z" fill="#00f"/>
<path d="M453.60 158.49L456.05 162.91L451.15 162.91Z" fill="#00f"/>
<path d="M456.30 159.42L458.75 163.84L453.85 163.84Z" fill="#00f"/>
<path d="M459.01 160.25L461.46 164.67L456.56 164.67Z" fill="#00f"/>
<path d="M461.71 161.00L464.16 165.42L459.26 165.42Z" fill="#00f"/>
<path d="M464.41 161.63L466.86 166.05L461.96 166.05Z" fill="#00f"/>
<path d="M467.12 162.13L469.57 166.55L464.67 166.55Z" fill="#00f"/>
<path d="M469.82 162.56L472.27 166.97L467.37 166.97Z" fill="#00f"/>
<path d="M472.53 162.90L474.98 167.32L470.08 167.32Z" fill="#00f"/>
<path d="M475.23 163.14L477.68 167.56L472.78 167.56Z" fill="#00f"/>
<path d="M477.94 163.36L480.39 167.78L475.49 167.78Z" fill="#00f"/>
<path d="M480.64 163.50L483.09 167.92L478.19 167.92Z" fill="#00f"/>
<path d="M483.34 163.52L485.79 167.94L480.89 167.94Z" fill="#00f"/>
<path d="M486.05 163.22L488.50 167.63L483.60 167.63Z" fill="#00f"/>
<path d="M488.75 162.67L491.20 167.09L486.30 167.09Z" fill="#00f"/>
<path d="M491.46 161.72L493.91 166.14L489.01 166.14Z" fill="#00f"/>
<path d="M494.16 160.01L496.61 164.42L491.71 164.42Z" fill="#00f"/>
<path d="M499.30 153.14L501.75 157.56L496.85 157.56Z" fill="#00f"/>
<path d="M502.10 132.74L504.55 137.16L499.65 137.16Z" fill="#00f"/>
<path d="M504.30 124.14L506.75 128.56L501.85 128.56Z" fill="#00f"/>
<path d="M342.72 148.96L345.43 145.51L348.13 141.04L350.83 134.52L353.54 127.63L356.24 120.53L358.95 111.11L361.65 102.20L364.36 92.60L367.06 82.45L369.76 71.05L372.47 59.41L375.17 49.24L377.88 41.60L380.58 35.42L383.29 30.35L385.99 27.46L388.69 26.24L391.40 26.17L394.10 27.35L396.81 29.94L399.51 36.13L402.22 43.04L404.92 50.42L407.62 59.18L410.33 69.35L413.03 79.73L415.74 89.74L418.44 98.53L421.15 105.78L423.85 113.60L426.55 120.36L429.26 126.58L431.96 131.83L434.67 136.19L437.37 139.77L440.08 142.39L442.78 144.51L445.48 146.55L448.19 148.78L450.89 150.55L453.60 152.12L456.30 153.42L459.01 154.42L461.71 155.23L464.41 155.94L467.12 156.58L469.82 157.17L472.53 157.68L475.23 158.08L477.94 158.46L480.64 158.73L483.34 158.76L486.05 158.29L488.75 157.54L491.46 156.23L494.16 153.92L499.40 141.00L502.10 112.00L504.30 82.00" fill="none" stroke="#777" stroke-width="0.75"/>
<rect x="340.97" y="147.21" width="3.50" height="3.50" fill="#000"/>
<rect x="343.68" y="143.76" width="3.50" height="3.50" fill="#000"/>
<rect x="346.38" y="139.29" width="3.50" height="3.50" fill="#000"/>
<rect x="349.08" y="132.77" width="3.50" height="3.50" fill="#000"/>
<rect x="351.79" y="125.88" width="3.50" height="3.50" fill="#000"/>
<rect x="354.49" y="118.78" width="3.50" height="3.50" fill="#000"/>
<rect x="357.20" y="109.36" width="3.50" height="3.50" fill="#000"/>
<rect x="359.90" y="100.45" width="3.50" height="3.50" fill="#000"/>
<rect x="362.61" y="90.85" width="3.50" height="3.50" fill="#000"/>
<rect x="365.31" y="80.70" width="3.50" height="3.50" fill="#000"/>
<rect x="368.01" y="69.30" width="3.50" height="3.50" fill="#000"/>
<rect x="370.72" y="57.66" width="3.50" height="3.50" fill="#000"/>
<rect x="373.42" y="47.49" width="3.50" height="3.50" fill="#000"/>
<rect x="376.13" y="39.85" width="3.50" height="3.50" fill="#000"/>
<rect x="378.83" y="33.67" width="3.50" height="3.50" fill="#000"/>
<rect x="381.54" y="28.60" width="3.50" height="3.50" fill="#000"/>
<rect x="384.24" y="25.71" width="3.50" height="3.50" fill="#000"/>
<rect x="386.94" y="24.49" width="3.50" height="3.50" fill="#000"/>
<rect x="389.65" y="24.42" width="3.50" height="3.50" fill="#000"/>
<rect x="392.35" y="25.60" width="3.50" height="3.50" fill="#000"/>
<rect x="395.06" y="28.19" width="3.50" height="3.50" fill="#000"/>
<rect x="397.76" y="34.38" width="3.50" height="3.50" fill="#000"/>
<rect x="400.47" y="41.29" width="3.50" height="3.50" fill="#000"/>
<rect x="403.17" y="48.67" width="3.50" height="3.50" fill="#000"/>
<rect x="405.87" y="57.43" width="3.50" height="3.50" fill="#000"/>
<rect x="408.58" y="67.60" width="3.50" height="3.50" fill="#000"/>
<rect x="411.28" y="77.98" width="3.50" height="3.50" fill="#000"/>
<rect x="413.99" y="87.99" width="3.50" height="3.50" fill="#000"/>
<rect x="416.69" y="96.78" width="3.50" height="3.50" fill="#000"/>
<rect x="419.40" y="104.03" width="3.50" height="3.50" fill="#000"/>
<rect x="422.10" y="111.85" width="3.50" height="3.50" fill="#000"/>
<rect x="424.80" y="118.61" width="3.50" height="3.50" fill="#000"/>
<rect x="427.51" y="124.83" width="3.50" height="3.50" fill="#000"/>
<rect x="430.21" y="130.08" width="3.50" height="3.50" fill="#000"/>
<rect x="432.92" y="134.44" width="3.50" height="3.50" fill="#000"/>
<rect x="435.62" y="138.02" width="3.50" height="3.50" fill="#000"/>
<rect x="438.33" y="140.64" width="3.50" height="3.50" fill="#000"/>
<rect x="441.03" y="142.76" width="3.50" height="3.50" fill="#000"/>
<rect x="443.73" y="144.80" width="3.50" height="3.50" fill="#000"/>
<rect x="446.44" y="147.03" width="3.50" height="3.50" fill="#000"/>
<rect x="449.14" y="148.80" width="3.50" height="3.50" fill="#000"/>
<rect x="451.85" y="150.37" width="3.50" height="3.50" fill="#000"/>
<rect x="454.55" y="151.67" width="3.50" height="3.50" fill="#000"/>
<rect x="457.26" y="152.67" width="3.50" height="3.50" fill="#000"/>
<rect x="459.96" y="153.48" width="3.50" height="3.50" fill="#000"/>
<rect x="462.66" y="154.19" width="3.50" height="3.50" fill="#000"/>
<rect x="465.37" y="154.83" width="3.50" height="3.50" fill="#000"/>
<rect x="468.07" y="155.42" width="3.50" height="3.50" fill="#000"/>
<rect x="470.78" y="155.93" width="3.50" height="3.50" fill="#000"/>
<rect x="473.48" y="156.33" width="3.50" height="3.50" fill="#000"/>
<rect x="476.19" y="156.71" width="3.50" height="3.50" fill="#000"/>
<rect x="478.89" y="156.98" width="3.50" height="3.50" fill="#000"/>
<rect x="481.59" y="157.01" width="3.50" height="3.50" fill="#000"/>
<rect x="484.30" y="156.54" width="3.50" height="3.50" fill="#000"/>
<rect x="487.00" y="155.79" width="3.50" height="3.50" fill="#000"/>
<rect x="489.71" y="154.48" width="3.50" height="3.50" fill="#000"/>
<rect x="492.41" y="152.17" width="3.50" height="3.50" fill="#000"/>
<rect x="497.65" y="139.25" width="3.50" height="3.50" fill="#000"/>
<rect x="500.35" y="110.25" width="3.50" height="3.50" fill="#000"/>
<rect x="502.55" y="80.25" width="3.50" height="3.50" fill="#000"/>
<path d="M342.72 151.82L345.43 150.85L348.13 149.90L350.83 148.99L353.54 148.24L356.24 147.26L358.95 145.68L361.65 141.52L364.36 137.33L367.06 133.27L369.76 128.16L372.47 121.89L375.17 115.07L377.88 107.73L380.58 99.92L383.29 92.51L385.99 82.75L388.69 72.82L391.40 64.77L394.10 59.20L396.81 54.94L399.51 50.85L402.22 47.64L404.92 45.73L407.62 44.56L410.33 44.37L413.03 46.34L415.74 48.74L418.44 51.80L421.15 55.71L423.85 60.59L426.55 65.70L429.26 71.69L431.96 79.68L434.67 87.51L437.37 96.56L440.08 101.71L442.78 108.19L445.48 113.67L448.19 118.86L450.89 123.37L453.60 127.64L456.30 131.26L459.01 134.50L461.71 137.07L464.41 139.37L467.12 141.55L469.82 143.54L472.53 145.34L475.23 146.91L477.94 148.52L480.64 150.20L483.34 151.85L486.05 153.24L488.75 154.32L491.46 155.22L494.16 154.77L499.30 129.60L501.60 86.50L504.30 110.40" fill="none" stroke="#f77" stroke-width="0.75"/>
<rect x="340.97" y="150.07" width="3.50" height="3.50" fill="#f00"/>
<rect x="343.68" y="149.10" width="3.50" height="3.50" fill="#f00"/>
<rect x="346.38" y="148.15" width="3.50" height="3.50" fill="#f00"/>
<rect x="349.08" y="147.24" width="3.50" height="3.50" fill="#f00"/>
<rect x="351.79" y="146.49" width="3.50" height="3.50" fill="#f00"/>
<rect x="354.49" y="145.51" width="3.50" height="3.50" fill="#f00"/>
<rect x="357.20" y="143.93" width="3.50" height="3.50" fill="#f00"/>
<rect x="359.90" y="139.77" width="3.50" height="3.50" fill="#f00"/>
<rect x="362.61" y="135.58" width="3.50" height="3.50" fill="#f00"/>
<rect x="365.31" y="131.52" width="3.50" height="3.50" fill="#f00"/>
<rect x="368.01" y="126.41" width="3.50" height="3.50" fill="#f00"/>
<rect x="370.72" y="120.14" width="3.50" height="3.50" fill="#f00"/>
<rect x="373.42" y="113.32" width="3.50" height="3.50" fill="#f00"/>
<rect x="376.13" y="105.98" width="3.50" height="3.50" fill="#f00"/>
<rect x="378.83" y="98.17" width="3.50" height="3.50" fill="#f00"/>
<rect x="381.54" y="90.76" width="3.50" height="3.50" fill="#f00"/>
<rect x="384.24" y="81.00" width="3.50" height="3.50" fill="#f00"/>
<rect x="386.94" y="71.07" width="3.50" height="3.50" fill="#f00"/>
<rect x="389.65" y="63.02" width="3.50" height="3.50" fill="#f00"/>
<rect x="392.35" y="57.45" width="3.50" height="3.50" fill="#f00"/>
<rect x="395.06" y="53.19" width="3.50" height="3.50" fill="#f00"/>
<rect x="397.76" y="49.10" width="3.50" height="3.50" fill="#f00"/>
<rect x="400.47" y="45.89" width="3.50" height="3.50" fill="#f00"/>
<rect x="403.17" y="43.98" width="3.50" height="3.50" fill="#f00"/>
<rect x="405.87" y="42.81" width="3.50" height="3.50" fill="#f00"/>
<rect x="408.58" y="42.62" width="3.50" height="3.50" fill="#f00"/>
<rect x="411.28" y="44.59" width="3.50" height="3.50" fill="#f00"/>
<rect x="413.99" y="46.99" width="3.50" height="3.50" fill="#f00"/>
<rect x="416.69" y="50.05" width="3.50" height="3.50" fill="#f00"/>
<rect x="419.40" y="53.96" width="3.50" height="3.50" fill="#f00"/>
<rect x="422.10" y="58.84" width="3.50" height="3.50" fill="#f00"/>
<rect x="424.80" y="63.95" width="3.50" height="3.50" fill="#f00"/>
<rect x="427.51" y="69.94" width="3.50" height="3.50" fill="#f00"/>
<rect x="430.21" y="77.93" width="3.50" height="3.50" fill="#f00"/>
<rect x="432.92" y="85.76" width="3.50" height="3.50" fill="#f00"/>
<rect x="435.62" y="94.81" width="3.50" height="3.50" fill="#f00"/>
<rect x="438.33" y="99.96" width="3.50" height="3.50" fill="#f00"/>
<rect x="441.03" y="106.44" width="3.50" height="3.50" fill="#f00"/>
<rect x="443.73" y="111.92" width="3.50" height="3.50" fill="#f00"/>
<rect x="446.44" y="117.11" width="3.50" height="3.50" fill="#f00"/>
<rect x="449.14" y="121.62" width="3.50" height="3.50" fill="#f00"/>
<rect x="451.85" y="125.89" width="3.50" height="3.50" fill="#f00"/>
<rect x="454.55" y="129.51" width="3.50" height="3.50" fill="#f00"/>
<rect x="457.26" y="132.75" width="3.50" height="3.50" fill="#f00"/>
<rect x="459.96" y="135.32" width="3.50" height="3.50" fill="#f00"/>
<rect x="462.66" y="137.62" width="3.50" height="3.50" fill="#f00"/>
<rect x="465.37" y="139.80" width="3.50" height="3.50" fill="#f00"/>
<rect x="468.07" y="141.79" width="3.50" height="3.50" fill="#f00"/>
<rect x="470.78" y="143.59" width="3.50" height="3.50" fill="#f00"/>
<rect x="473.48" y="145.16" width="3.50" height="3.50" fill="#f00"/>
<rect x="476.19" y="146.77" width="3.50" height="3.50" fill="#f00"/>
<rect x="478.89" y="148.45" width="3.50" height="3.50" fill="#f00"/>
<rect x="481.59" y="150.10" width="3.50" height="3.50" fill="#f00"/>
<rect x="484.30" y="151.49" width="3.50" height="3.50" fill="#f00"/>
<rect x="487.00" y="152.57" width="3.50" height="3.50" fill="#f00"/>
<rect x="489.71" y="153.47" width="3.50" height="3.50" fill="#f00"/>
<rect x="492.41" y="153.02" width="3.50" height="3.50" fill="#f00"/>
<rect x="497.55" y="127.85" width="3.50" height="3.50" fill="#f00"/>
<rect x="499.85" y="84.75" width="3.50" height="3.50" fill="#f00"/>
<rect x="502.55" y="108.65" width="3.50" height="3.50" fill="#f00"/>
<path d="M342.72 149.07L345.43 147.94L348.13 147.45L350.83 147.09L353.54 146.78L356.24 146.44L358.95 145.88L361.65 145.09L364.36 144.20L367.06 143.14L369.76 141.56L372.47 137.30L375.17 132.17L377.88 126.05L380.58 119.84L383.29 113.85L385.99 105.73L388.69 97.65L391.40 89.83L394.10 81.80L396.81 72.80L399.51 65.94L402.22 60.57L404.92 55.52L407.62 50.56L410.33 47.75L413.03 45.40L415.74 44.90L418.44 45.70L421.15 47.38L423.85 50.00L426.55 53.62L429.26 58.73L431.96 64.69L434.67 71.77L437.37 78.72L440.08 84.59L442.78 90.36L445.48 97.37L448.19 104.01L450.89 110.97L453.60 115.94L456.30 120.68L459.01 125.61L461.71 129.39L464.41 132.84L467.12 135.81L469.82 138.28L472.53 140.37L475.23 142.58L477.94 144.69L480.64 146.49L483.34 148.26L486.05 150.03L488.75 152.00L491.46 153.97L494.16 155.31L497.00 146.00L499.30 121.70L502.10 73.60L504.30 86.50" fill="none" stroke="#77f" stroke-width="0.75"/>
<rect x="340.97" y="147.32" width="3.50" height="3.50" fill="#00f"/>
<rect x="343.68" y="146.19" width="3.50" height="3.50" fill="#00f"/>
<rect x="346.38" y="145.70" width="3.50" height="3.50" fill="#00f"/>
<rect x="349.08" y="145.34" width="3.50" height="3.50" fill="#00f"/>
<rect x="351.79" y="145.03" width="3.50" height="3.50" fill="#00f"/>
<rect x="354.49" y="144.69" width="3.50" height="3.50" fill="#00f"/>
<rect x="357.20" y="144.13" width="3.50" height="3.50" fill="#00f"/>
<rect x="359.90" y="143.34" width="3.50" height="3.50" fill="#00f"/>
<rect x="362.61" y="142.45" width="3.50" height="3.50" fill="#00f"/>
<rect x="365.31" y="141.39" width="3.50" height="3.50" fill="#00f"/>
<rect x="368.01" y="139.81" width="3.50" height="3.50" fill="#00f"/>
<rect x="370.72" y="135.55" width="3.50" height="3.50" fill="#00f"/>
<rect x="373.42" y="130.42" width="3.50" height="3.50" fill="#00f"/>
<rect x="376.13" y="124.30" width="3.50" height="3.50" fill="#00f"/>
<rect x="378.83" y="118.09" width="3.50" height="3.50" fill="#00f"/>
<rect x="381.54" y="112.10" width="3.50" height="3.50" fill="#00f"/>
<rect x="384.24" y="103.98" width="3.50" height="3.50" fill="#00f"/>
<rect x="386.94" y="95.90" width="3.50" height="3.50" fill="#00f"/>
<rect x="389.65" y="88.08" width="3.50" height="3.50" fill="#00f"/>
<rect x="392.35" y="80.05" width="3.50" height="3.50" fill="#00f"/>
<rect x="395.06" y="71.05" width="3.50" height="3.50" fill="#00f"/>
<rect x="397.76" y="64.19" width="3.50" height="3.50" fill="#00f"/>
<rect x="400.47" y="58.82" width="3.50" height="3.50" fill="#00f"/>
<rect x="403.17" y="53.77" width="3.50" height="3.50" fill="#00f"/>
<rect x="405.87" y="48.81" width="3.50" height="3.50" fill="#00f"/>
<rect x="408.58" y="46.00" width="3.50" height="3.50" fill="#00f"/>
<rect x="411.28" y="43.65" width="3.50" height="3.50" fill="#00f"/>
<rect x="413.99" y="43.15" width="3.50" height="3.50" fill="#00f"/>
<rect x="416.69" y="43.95" width="3.50" height="3.50" fill="#00f"/>
<rect x="419.40" y="45.63" width="3.50" height="3.50" fill="#00f"/>
<rect x="422.10" y="48.25" width="3.50" height="3.50" fill="#00f"/>
<rect x="424.80" y="51.87" width="3.50" height="3.50" fill="#00f"/>
<rect x="427.51" y="56.98" width="3.50" height="3.50" fill="#00f"/>
<rect x="430.21" y="62.94" width="3.50" height="3.50" fill="#00f"/>
<rect x="432.92" y="70.02" width="3.50" height="3.50" fill="#00f"/>
<rect x="435.62" y="76.97" width="3.50" height="3.50" fill="#00f"/>
<rect x="438.33" y="82.84" width="3.50" height="3.50" fill="#00f"/>
<rect x="441.03" y="88.61" width="3.50" height="3.50" fill="#00f"/>
<rect x="443.73" y="95.62" width="3.50" height="3.50" fill="#00f"/>
<rect x="446.44" y="102.26" width="3.50" height="3.50" fill="#00f"/>
<rect x="449.14" y="109.22" width="3.50" height="3.50" fill="#00f"/>
<rect x="451.85" y="114.19" width="3.50" height="3.50" fill="#00f"/>
<rect x="454.55" y="118.93" width="3.50" height="3.50" fill="#00f"/>
<rect x="457.26" y="123.86" width="3.50" height="3.50" fill="#00f"/>
<rect x="459.96" y="127.64" width="3.50" height="3.50" fill="#00f"/>
<rect x="462.66" y="131.09" width="3.50" height="3.50" fill="#00f"/>
<rect x="465.37" y="134.06" width="3.50" height="3.50" fill="#00f"/>
<rect x="468.07" y="136.53" width="3.50" height="3.50" fill="#00f"/>
<rect x="470.78" y="138.62" width="3.50" height="3.50" fill="#00f"/>
<rect x="473.48" y="140.83" width="3.50" height="3.50" fill="#00f"/>
<rect x="476.19" y="142.94" width="3.50" height="3.50" fill="#00f"/>
<rect x="478.89" y="144.74" width="3.50" height="3.50" fill="#00f"/>
<rect x="481.59" y="146.51" width="3.50" height="3.50" fill="#00f"/>
<rect x="484.30" y="148.28" width="3.50" height="3.50" fill="#00f"/>
<rect x="487.00" y="150.25" width="3.50" height="3.50" fill="#00f"/>
<rect x="489.71" y="152.22" width="3.50" height="3.50" fill="#00f"/>
<rect x="492.41" y="153.56" width="3.50" height="3.50" fill="#00f"/>
<rect x="495.25" y="144.25" width="3.50" height="3.50" fill="#00f"/>
<rect x="497.55" y="119.95" width="3.50" height="3.50" fill="#00f"/>
<rect x="500.35" y="71.85" width="3.50" height="3.50" fill="#00f"/>
<rect x="502.55" y="84.75" width="3.50" height="3.50" fill="#00f"/>
<path d="M339.81 245.51L342.54 246.03L345.26 246.70L347.98 247.56L350.71 248.72L353.43 250.41L356.15 252.72L358.87 255.81L361.60 259.83L364.32 265.13L367.04 271.27L369.77 277.30L372.49 283.97L375.21 291.49L377.93 298.06L380.66 303.74L383.38 308.95L386.10 314.37L388.83 319.47L391.55 324.86L394.27 330.55L396.99 336.22L399.72 341.64L402.44 347.12L405.16 351.86L407.89 355.95L410.61 359.41L413.33 362.25L416.05 364.79L418.78 367.18L421.50 369.27L424.22 371.10L426.95 372.72L429.67 374.17L432.39 375.49L435.11 376.62L437.84 377.56L440.56 378.36L443.28 379.05L446.01 379.65L448.73 380.13L451.45 380.50L454.17 380.82L456.90 381.09L459.62 381.28L462.34 381.42L465.07 381.55L467.79 381.66L470.51 381.74L473.23 381.79L475.96 381.80L478.68 381.80L481.40 381.80L484.13 381.80L486.85 381.80L489.57 381.80L492.29 381.72L495.02 381.49" fill="none" stroke="#777" stroke-width="0.75"/>
<rect x="338.06" y="243.76" width="3.50" height="3.50" fill="#000"/>
<rect x="340.79" y="244.28" width="3.50" height="3.50" fill="#000"/>
<rect x="343.51" y="244.95" width="3.50" height="3.50" fill="#000"/>
<rect x="346.23" y="245.81" width="3.50" height="3.50" fill="#000"/>
<rect x="348.96" y="246.97" width="3.50" height="3.50" fill="#000"/>
<rect x="351.68" y="248.66" width="3.50" height="3.50" fill="#000"/>
<rect x="354.40" y="250.97" width="3.50" height="3.50" fill="#000"/>
<rect x="357.12" y="254.06" width="3.50" height="3.50" fill="#000"/>
<rect x="359.85" y="258.08" width="3.50" height="3.50" fill="#000"/>
<rect x="362.57" y="263.38" width="3.50" height="3.50" fill="#000"/>
<rect x="365.29" y="269.52" width="3.50" height="3.50" fill="#000"/>
<rect x="368.02" y="275.55" width="3.50" height="3.50" fill="#000"/>
<rect x="370.74" y="282.22" width="3.50" height="3.50" fill="#000"/>
<rect x="373.46" y="289.74" width="3.50" height="3.50" fill="#000"/>
<rect x="376.18" y="296.31" width="3.50" height="3.50" fill="#000"/>
<rect x="378.91" y="301.99" width="3.50" height="3.50" fill="#000"/>
<rect x="381.63" y="307.20" width="3.50" height="3.50" fill="#000"/>
<rect x="384.35" y="312.62" width="3.50" height="3.50" fill="#000"/>
<rect x="387.08" y="317.72" width="3.50" height="3.50" fill="#000"/>
<rect x="389.80" y="323.11" width="3.50" height="3.50" fill="#000"/>
<rect x="392.52" y="328.80" width="3.50" height="3.50" fill="#000"/>
<rect x="395.24" y="334.47" width="3.50" height="3.50" fill="#000"/>
<rect x="397.97" y="339.89" width="3.50" height="3.50" fill="#000"/>
<rect x="400.69" y="345.37" width="3.50" height="3.50" fill="#000"/>
<rect x="403.41" y="350.11" width="3.50" height="3.50" fill="#000"/>
<rect x="406.14" y="354.20" width="3.50" height="3.50" fill="#000"/>
<rect x="408.86" y="357.66" width="3.50" height="3.50" fill="#000"/>
<rect x="411.58" y="360.50" width="3.50" height="3.50" fill="#000"/>
<rect x="414.30" y="363.04" width="3.50" height="3.50" fill="#000"/>
<rect x="417.03" y="365.43" width="3.50" height="3.50" fill="#000"/>
<rect x="419.75" y="367.52" width="3.50" height="3.50" fill="#000"/>
<rect x="422.47" y="369.35" width="3.50" height="3.50" fill="#000"/>
<rect x="425.20" y="370.97" width="3.50" height="3.50" fill="#000"/>
<rect x="427.92" y="372.42" width="3.50" height="3.50" fill="#000"/>
<rect x="430.64" y="373.74" width="3.50" height="3.50" fill="#000"/>
<rect x="433.36" y="374.87" width="3.50" height="3.50" fill="#000"/>
<rect x="436.09" y="375.81" width="3.50" height="3.50" fill="#000"/>
<rect x="438.81" y="376.61" width="3.50" height="3.50" fill="#000"/>
<rect x="441.53" y="377.30" width="3.50" height="3.50" fill="#000"/>
<rect x="444.26" y="377.90" width="3.50" height="3.50" fill="#000"/>
<rect x="446.98" y="378.38" width="3.50" height="3.50" fill="#000"/>
<rect x="449.70" y="378.75" width="3.50" height="3.50" fill="#000"/>
<rect x="452.42" y="379.07" width="3.50" height="3.50" fill="#000"/>
<rect x="455.15" y="379.34" width="3.50" height="3.50" fill="#000"/>
<rect x="457.87" y="379.53" width="3.50" height="3.50" fill="#000"/>
<rect x="460.59" y="379.67" width="3.50" height="3.50" fill="#000"/>
<rect x="463.32" y="379.80" width="3.50" height="3.50" fill="#000"/>
<rect x="466.04" y="379.91" width="3.50" height="3.50" fill="#000"/>
<rect x="468.76" y="379.99" width="3.50" height="3.50" fill="#000"/>
<rect x="471.48" y="380.04" width="3.50" height="3.50" fill="#000"/>
<rect x="474.21" y="380.05" width="3.50" height="3.50" fill="#000"/>
<rect x="476.93" y="380.05" width="3.50" height="3.50" fill="#000"/>
<rect x="479.65" y="380.05" width="3.50" height="3.50" fill="#000"/>
<rect x="482.38" y="380.05" width="3.50" height="3.50" fill="#000"/>
<rect x="485.10" y="380.05" width="3.50" height="3.50" fill="#000"/>
<rect x="487.82" y="380.05" width="3.50" height="3.50" fill="#000"/>
<rect x="490.54" y="379.97" width="3.50" height="3.50" fill="#000"/>
<rect x="493.27" y="379.74" width="3.50" height="3.50" fill="#000"/>
<path d="M339.81 280.59L342.54 279.89L345.26 279.42L347.98 279.07L350.71 279.03L353.43 279.34L356.15 279.89L358.87 281.05L361.60 282.49L364.32 284.62L367.04 287.61L369.77 290.94L372.49 295.63L375.21 300.89L377.93 305.48L380.66 309.43L383.38 315.46L386.10 321.37L388.83 326.75L391.55 332.20L394.27 337.64L396.99 343.14L399.72 348.79L402.44 354.21L405.16 358.97L407.89 363.17L410.61 365.78L413.33 367.52L416.05 368.65L418.78 369.60L421.50 370.59L424.22 371.48L426.95 372.18L429.67 372.79L432.39 373.30L435.11 373.69L437.84 374.03L440.56 374.31L443.28 374.49L446.01 374.58L448.73 374.64L451.45 374.70L454.17 374.83L456.90 374.99L459.62 375.13L462.34 375.20L465.07 375.20L467.79 375.20L470.51 375.20L473.23 375.20L475.96 375.20L478.68 375.20L481.40 375.20L484.13 375.20L486.85 375.20L489.57 375.20L492.29 375.20L495.02 375.17L497.74 374.57L500.60 371.50" fill="none" stroke="#f77" stroke-width="0.75"/>
<circle cx="339.81" cy="280.59" r="2.10" fill="#f00"/>
<circle cx="342.54" cy="279.89" r="2.10" fill="#f00"/>
<circle cx="345.26" cy="279.42" r="2.10" fill="#f00"/>
<circle cx="347.98" cy="279.07" r="2.10" fill="#f00"/>
<circle cx="350.71" cy="279.03" r="2.10" fill="#f00"/>
<circle cx="353.43" cy="279.34" r="2.10" fill="#f00"/>
<circle cx="356.15" cy="279.89" r="2.10" fill="#f00"/>
<circle cx="358.87" cy="281.05" r="2.10" fill="#f00"/>
<circle cx="361.60" cy="282.49" r="2.10" fill="#f00"/>
<circle cx="364.32" cy="284.62" r="2.10" fill="#f00"/>
<circle cx="367.04" cy="287.61" r="2.10" fill="#f00"/>
<circle cx="369.77" cy="290.94" r="2.10" fill="#f00"/>
<circle cx="372.49" cy="295.63" r="2.10" fill="#f00"/>
<circle cx="375.21" cy="300.89" r="2.10" fill="#f00"/>
<circle cx="377.93" cy="305.48" r="2.10" fill="#f00"/>
<circle cx="380.66" cy="309.43" r="2.10" fill="#f00"/>
<circle cx="383.38" cy="315.46" r="2.10" fill="#f00"/>
<circle cx="386.10" cy="321.37" r="2.10" fill="#f00"/>
<circle cx="388.83" cy="326.75" r="2.10" fill="#f00"/>
<circle cx="391.55" cy="332.20" r="2.10" fill="#f00"/>
<circle cx="394.27" cy="337.64" r="2.10" fill="#f00"/>
<circle cx="396.99" cy="343.14" r="2.10" fill="#f00"/>
<circle cx="399.72" cy="348.79" r="2.10" fill="#f00"/>
<circle cx="402.44" cy="354.21" r="2.10" fill="#f00"/>
<circle cx="405.16" cy="358.97" r="2.10" fill="#f00"/>
<circle cx="407.89" cy="363.17" r="2.10" fill="#f00"/>
<circle cx="410.61" cy="365.78" r="2.10" fill="#f00"/>
<circle cx="413.33" cy="367.52" r="2.10" fill="#f00"/>
<circle cx="416.05" cy="368.65" r="2.10" fill="#f00"/>
<circle cx="418.78" cy="369.60" r="2.10" fill="#f00"/>
<circle cx="421.50" cy="370.59" r="2.10" fill="#f00"/>
<circle cx="424.22" cy="371.48" r="2.10" fill="#f00"/>
<circle cx="426.95" cy="372.18" r="2.10" fill="#f00"/>
<circle cx="429.67" cy="372.79" r="2.10" fill="#f00"/>
<circle cx="432.39" cy="373.30" r="2.10" fill="#f00"/>
<circle cx="435.11" cy="373.69" r="2.10" fill="#f00"/>
<circle cx="437.84" cy="374.03" r="2.10" fill="#f00"/>
<circle cx="440.56" cy="374.31" r="2.10" fill="#f00"/>
<circle cx="443.28" cy="374.49" r="2.10" fill="#f00"/>
<circle cx="446.01" cy="374.58" r="2.10" fill="#f00"/>
<circle cx="448.73" cy="374.64" r="2.10" fill="#f00"/>
<circle cx="451.45" cy="374.70" r="2.10" fill="#f00"/>
<circle cx="454.17" cy="374.83" r="2.10" fill="#f00"/>
<circle cx="456.90" cy="374.99" r="2.10" fill="#f00"/>
<circle cx="459.62" cy="375.13" r="2.10" fill="#f00"/>
<circle cx="462.34" cy="375.20" r="2.10" fill="#f00"/>
<circle cx="465.07" cy="375.20" r="2.10" fill="#f00"/>
<circle cx="467.79" cy="375.20" r="2.10" fill="#f00"/>
<circle cx="470.51" cy="375.20" r="2.10" fill="#f00"/>
<circle cx="473.23" cy="375.20" r="2.10" fill="#f00"/>
<circle cx="475.96" cy="375.20" r="2.10" fill="#f00"/>
<circle cx="478.68" cy="375.20" r="2.10" fill="#f00"/>
<circle cx="481.40" cy="375.20" r="2.10" fill="#f00"/>
<circle cx="484.13" cy="375.20" r="2.10" fill="#f00"/>
<circle cx="486.85" cy="375.20" r="2.10" fill="#f00"/>
<circle cx="489.57" cy="375.20" r="2.10" fill="#f00"/>
<circle cx="492.29" cy="375.20" r="2.10" fill="#f00"/>
<circle cx="495.02" cy="375.17" r="2.10" fill="#f00"/>
<circle cx="497.74" cy="374.57" r="2.10" fill="#f00"/>
<circle cx="500.60" cy="371.50" r="2.10" fill="#f00"/>
<path d="M339.81 292.63L342.54 292.84L345.26 293.16L347.98 293.65L350.71 294.01L353.43 294.22L356.15 294.64L358.87 295.63L361.60 296.74L364.32 298.00L367.04 300.15L369.77 302.78L372.49 305.51L375.21 308.98L377.93 312.69L380.66 316.74L383.38 322.32L386.10 328.71L388.83 334.83L391.55 340.20L394.27 345.64L396.99 351.14L399.72 356.30L402.44 360.96L405.16 364.92L407.89 367.83L410.61 369.99L413.33 371.61L416.05 373.18L418.78 374.83L421.50 376.28L424.22 377.38L426.95 378.30L429.67 379.12L432.39 379.89L435.11 380.61L437.84 381.25L440.56 381.81L443.28 382.31L446.01 382.77L448.73 383.22L451.45 383.66L454.17 384.09L456.90 384.50L459.62 384.92L462.34 385.34L465.07 385.78L467.79 386.22L470.51 386.66L473.23 387.09L475.96 387.53L478.68 388.01L481.40 388.29L484.13 388.12L486.85 387.48L489.57 386.63L492.29 385.63L495.02 384.27L497.74 382.64L500.60 377.00L503.40 372.60" fill="none" stroke="#77f" stroke-width="0.75"/>
<path d="M339.81 290.07L342.26 294.49L337.36 294.49Z" fill="#00f"/>
<path d="M342.54 290.28L344.99 294.70L340.09 294.70Z" fill="#00f"/>
<path d="M345.26 290.60L347.71 295.02L342.81 295.02Z" fill="#00f"/>
<path d="M347.98 291.09L350.43 295.51L345.53 295.51Z" fill="#00f"/>
<path d="M350.71 291.45L353.16 295.87L348.26 295.87Z" fill="#00f"/>
<path d="M353.43 291.66L355.88 296.08L350.98 296.08Z" fill="#00f"/>
<path d="M356.15 292.08L358.60 296.50L353.70 296.50Z" fill="#00f"/>
<path d="M358.87 293.07L361.32 297.49L356.42 297.49Z" fill="#00f"/>
<path d="M361.60 294.18L364.05 298.60L359.15 298.60Z" fill="#00f"/>
<path d="M364.32 295.44L366.77 299.86L361.87 299.86Z" fill="#00f"/>
<path d="M367.04 297.59L369.49 302.01L364.59 302.01Z" fill="#00f"/>
<path d="M369.77 300.22L372.22 304.64L367.32 304.64Z" fill="#00f"/>
<path d="M372.49 302.95L374.94 307.37L370.04 307.37Z" fill="#00f"/>
<path d="M375.21 306.42L377.66 310.84L372.76 310.84Z" fill="#00f"/>
<path d="M377.93 310.13L380.38 314.54L375.48 314.54Z" fill="#00f"/>
<path d="M380.66 314.18L383.11 318.60L378.21 318.60Z" fill="#00f"/>
<path d="M383.38 319.76L385.83 324.18L380.93 324.18Z" fill="#00f"/>
<path d="M386.10 326.15L388.55 330.57L383.65 330.57Z" fill="#00f"/>
<path d="M388.83 332.27L391.28 336.69L386.38 336.69Z" fill="#00f"/>
<path d="M391.55 337.64L394.00 342.06L389.10 342.06Z" fill="#00f"/>
<path d="M394.27 343.08L396.72 347.50L391.82 347.50Z" fill="#00f"/>
<path d="M396.99 348.58L399.44 353.00L394.54 353.00Z" fill="#00f"/>
<path d="M399.72 353.74L402.17 358.16L397.27 358.16Z" fill="#00f"/>
<path d="M402.44 358.39L404.89 362.81L399.99 362.81Z" fill="#00f"/>
<path d="M405.16 362.36L407.61 366.78L402.71 366.78Z" fill="#00f"/>
<path d="M407.89 365.27L410.34 369.69L405.44 369.69Z" fill="#00f"/>
<path d="M410.61 367.43L413.06 371.85L408.16 371.85Z" fill="#00f"/>
<path d="M413.33 369.05L415.78 373.47L410.88 373.47Z" fill="#00f"/>
<path d="M416.05 370.62L418.50 375.04L413.60 375.04Z" fill="#00f"/>
<path d="M418.78 372.27L421.23 376.69L416.33 376.69Z" fill="#00f"/>
<path d="M421.50 373.72L423.95 378.14L419.05 378.14Z" fill="#00f"/>
<path d="M424.22 374.82L426.67 379.24L421.77 379.24Z" fill="#00f"/>
<path d="M426.95 375.74L429.40 380.16L424.50 380.16Z" fill="#00f"/>
<path d="M429.67 376.56L432.12 380.98L427.22 380.98Z" fill="#00f"/>
<path d="M432.39 377.33L434.84 381.75L429.94 381.75Z" fill="#00f"/>
<path d="M435.11 378.05L437.56 382.47L432.66 382.47Z" fill="#00f"/>
<path d="M437.84 378.69L440.29 383.11L435.39 383.11Z" fill="#00f"/>
<path d="M440.56 379.25L443.01 383.67L438.11 383.67Z" fill="#00f"/>
<path d="M443.28 379.75L445.73 384.17L440.83 384.17Z" fill="#00f"/>
<path d="M446.01 380.21L448.46 384.63L443.56 384.63Z" fill="#00f"/>
<path d="M448.73 380.66L451.18 385.08L446.28 385.08Z" fill="#00f"/>
<path d="M451.45 381.10L453.90 385.52L449.00 385.52Z" fill="#00f"/>
<path d="M454.17 381.53L456.62 385.94L451.72 385.94Z" fill="#00f"/>
<path d="M456.90 381.94L459.35 386.36L454.45 386.36Z" fill="#00f"/>
<path d="M459.62 382.36L462.07 386.78L457.17 386.78Z" fill="#00f"/>
<path d="M462.34 382.78L464.79 387.20L459.89 387.20Z" fill="#00f"/>
<path d="M465.07 383.22L467.52 387.64L462.62 387.64Z" fill="#00f"/>
<path d="M467.79 383.66L470.24 388.08L465.34 388.08Z" fill="#00f"/>
<path d="M470.51 384.10L472.96 388.52L468.06 388.52Z" fill="#00f"/>
<path d="M473.23 384.53L475.68 388.94L470.78 388.94Z" fill="#00f"/>
<path d="M475.96 384.97L478.41 389.39L473.51 389.39Z" fill="#00f"/>
<path d="M478.68 385.45L481.13 389.87L476.23 389.87Z" fill="#00f"/>
<path d="M481.40 385.73L483.85 390.15L478.95 390.15Z" fill="#00f"/>
<path d="M484.13 385.55L486.58 389.97L481.68 389.97Z" fill="#00f"/>
<path d="M486.85 384.92L489.30 389.34L484.40 389.34Z" fill="#00f"/>
<path d="M489.57 384.07L492.02 388.49L487.12 388.49Z" fill="#00f"/>
<path d="M492.29 383.07L494.74 387.49L489.84 387.49Z" fill="#00f"/>
<path d="M495.02 381.71L497.47 386.13L492.57 386.13Z" fill="#00f"/>
<path d="M497.74 380.08L500.19 384.50L495.29 384.50Z" fill="#00f"/>
<path d="M500.60 374.44L503.05 378.86L498.15 378.86Z" fill="#00f"/>
<path d="M503.40 370.04L505.85 374.46L500.95 374.46Z" fill="#00f"/>
<path d="M339.81 371.96L342.54 368.14L345.26 363.59L347.98 357.95L350.71 351.92L353.43 345.00L356.15 335.58L358.87 326.49L361.60 317.31L364.32 308.03L367.04 299.19L369.77 291.25L372.49 284.58L375.21 278.98L377.93 273.58L380.66 269.13L383.38 265.38L386.10 262.55L388.83 260.54L391.55 259.07L394.27 257.99L396.99 257.30L399.72 257.30L402.44 257.34L405.16 258.15L407.89 259.31L410.61 260.88L413.33 262.79L416.05 264.91L418.78 267.28L421.50 270.73L424.22 274.63L426.95 279.05L429.67 284.34L432.39 290.28L435.11 296.91L437.84 306.32L440.56 315.15L443.28 323.46L446.01 330.92L448.73 338.07L451.45 344.61L454.17 350.67L456.90 355.42L459.62 359.78L462.34 363.68L465.07 367.08L467.79 370.15L470.51 372.95L473.23 375.64L475.96 378.49L478.68 380.80L481.40 382.56L484.13 383.66L486.85 384.52L489.57 385.49L492.29 385.66L495.02 385.20L498.20 381.00L500.60 333.10L503.40 327.70" fill="none" stroke="#777" stroke-width="0.75"/>
<rect x="338.06" y="370.21" width="3.50" height="3.50" fill="#000"/>
<rect x="340.79" y="366.39" width="3.50" height="3.50" fill="#000"/>
<rect x="343.51" y="361.84" width="3.50" height="3.50" fill="#000"/>
<rect x="346.23" y="356.20" width="3.50" height="3.50" fill="#000"/>
<rect x="348.96" y="350.17" width="3.50" height="3.50" fill="#000"/>
<rect x="351.68" y="343.25" width="3.50" height="3.50" fill="#000"/>
<rect x="354.40" y="333.83" width="3.50" height="3.50" fill="#000"/>
<rect x="357.12" y="324.74" width="3.50" height="3.50" fill="#000"/>
<rect x="359.85" y="315.56" width="3.50" height="3.50" fill="#000"/>
<rect x="362.57" y="306.28" width="3.50" height="3.50" fill="#000"/>
<rect x="365.29" y="297.44" width="3.50" height="3.50" fill="#000"/>
<rect x="368.02" y="289.50" width="3.50" height="3.50" fill="#000"/>
<rect x="370.74" y="282.83" width="3.50" height="3.50" fill="#000"/>
<rect x="373.46" y="277.23" width="3.50" height="3.50" fill="#000"/>
<rect x="376.18" y="271.83" width="3.50" height="3.50" fill="#000"/>
<rect x="378.91" y="267.38" width="3.50" height="3.50" fill="#000"/>
<rect x="381.63" y="263.63" width="3.50" height="3.50" fill="#000"/>
<rect x="384.35" y="260.80" width="3.50" height="3.50" fill="#000"/>
<rect x="387.08" y="258.79" width="3.50" height="3.50" fill="#000"/>
<rect x="389.80" y="257.32" width="3.50" height="3.50" fill="#000"/>
<rect x="392.52" y="256.24" width="3.50" height="3.50" fill="#000"/>
<rect x="395.24" y="255.55" width="3.50" height="3.50" fill="#000"/>
<rect x="397.97" y="255.55" width="3.50" height="3.50" fill="#000"/>
<rect x="400.69" y="255.59" width="3.50" height="3.50" fill="#000"/>
<rect x="403.41" y="256.40" width="3.50" height="3.50" fill="#000"/>
<rect x="406.14" y="257.56" width="3.50" height="3.50" fill="#000"/>
<rect x="408.86" y="259.13" width="3.50" height="3.50" fill="#000"/>
<rect x="411.58" y="261.04" width="3.50" height="3.50" fill="#000"/>
<rect x="414.30" y="263.16" width="3.50" height="3.50" fill="#000"/>
<rect x="417.03" y="265.53" width="3.50" height="3.50" fill="#000"/>
<rect x="419.75" y="268.98" width="3.50" height="3.50" fill="#000"/>
<rect x="422.47" y="272.88" width="3.50" height="3.50" fill="#000"/>
<rect x="425.20" y="277.30" width="3.50" height="3.50" fill="#000"/>
<rect x="427.92" y="282.59" width="3.50" height="3.50" fill="#000"/>
<rect x="430.64" y="288.53" width="3.50" height="3.50" fill="#000"/>
<rect x="433.36" y="295.16" width="3.50" height="3.50" fill="#000"/>
<rect x="436.09" y="304.57" width="3.50" height="3.50" fill="#000"/>
<rect x="438.81" y="313.40" width="3.50" height="3.50" fill="#000"/>
<rect x="441.53" y="321.71" width="3.50" height="3.50" fill="#000"/>
<rect x="444.26" y="329.17" width="3.50" height="3.50" fill="#000"/>
<rect x="446.98" y="336.32" width="3.50" height="3.50" fill="#000"/>
<rect x="449.70" y="342.86" width="3.50" height="3.50" fill="#000"/>
<rect x="452.42" y="348.92" width="3.50" height="3.50" fill="#000"/>
<rect x="455.15" y="353.67" width="3.50" height="3.50" fill="#000"/>
<rect x="457.87" y="358.03" width="3.50" height="3.50" fill="#000"/>
<rect x="460.59" y="361.93" width="3.50" height="3.50" fill="#000"/>
<rect x="463.32" y="365.33" width="3.50" height="3.50" fill="#000"/>
<rect x="466.04" y="368.40" width="3.50" height="3.50" fill="#000"/>
<rect x="468.76" y="371.20" width="3.50" height="3.50" fill="#000"/>
<rect x="471.48" y="373.89" width="3.50" height="3.50" fill="#000"/>
<rect x="474.21" y="376.74" width="3.50" height="3.50" fill="#000"/>
<rect x="476.93" y="379.05" width="3.50" height="3.50" fill="#000"/>
<rect x="479.65" y="380.81" width="3.50" height="3.50" fill="#000"/>
<rect x="482.38" y="381.91" width="3.50" height="3.50" fill="#000"/>
<rect x="485.10" y="382.77" width="3.50" height="3.50" fill="#000"/>
<rect x="487.82" y="383.74" width="3.50" height="3.50" fill="#000"/>
<rect x="490.54" y="383.91" width="3.50" height="3.50" fill="#000"/>
<rect x="493.27" y="383.45" width="3.50" height="3.50" fill="#000"/>
<rect x="496.45" y="379.25" width="3.50" height="3.50" fill="#000"/>
<rect x="498.85" y="331.35" width="3.50" height="3.50" fill="#000"/>
<rect x="501.65" y="325.95" width="3.50" height="3.50" fill="#000"/>
<path d="M339.81 387.60L342.54 385.08L345.26 382.44L347.98 379.45L350.71 375.24L353.43 371.60L356.15 367.48L358.87 362.21L361.60 355.84L364.32 349.61L367.04 340.43L369.77 331.42L372.49 321.67L375.21 309.22L377.93 294.91L380.66 285.14L383.38 279.49L386.10 275.12L388.83 272.70L391.55 270.92L394.27 269.63L396.99 268.72L399.72 268.74L402.44 269.42L405.16 270.99L407.89 273.24L410.61 276.79L413.33 281.14L416.05 286.12L418.78 292.29L421.50 301.51L424.22 310.55L426.95 320.11L429.67 329.69L432.39 339.21L435.11 348.32L437.84 355.17L440.56 360.45L443.28 365.09L446.01 369.72L448.73 372.75L451.45 375.01L454.17 376.87L456.90 378.48L459.62 379.98L462.34 381.46L465.07 382.83L467.79 384.14L470.51 385.30L473.23 386.17L475.96 386.97L478.68 387.45L481.40 387.43L484.13 387.09L486.85 386.53L489.57 385.33L492.29 383.11L497.50 377.00L500.60 370.00L503.40 362.00" fill="none" stroke="#f77" stroke-width="0.75"/>
<rect x="338.06" y="385.85" width="3.50" height="3.50" fill="#f00"/>
<rect x="340.79" y="383.33" width="3.50" height="3.50" fill="#f00"/>
<rect x="343.51" y="380.69" width="3.50" height="3.50" fill="#f00"/>
<rect x="346.23" y="377.70" width="3.50" height="3.50" fill="#f00"/>
<rect x="348.96" y="373.49" width="3.50" height="3.50" fill="#f00"/>
<rect x="351.68" y="369.85" width="3.50" height="3.50" fill="#f00"/>
<rect x="354.40" y="365.73" width="3.50" height="3.50" fill="#f00"/>
<rect x="357.12" y="360.46" width="3.50" height="3.50" fill="#f00"/>
<rect x="359.85" y="354.09" width="3.50" height="3.50" fill="#f00"/>
<rect x="362.57" y="347.86" width="3.50" height="3.50" fill="#f00"/>
<rect x="365.29" y="338.68" width="3.50" height="3.50" fill="#f00"/>
<rect x="368.02" y="329.67" width="3.50" height="3.50" fill="#f00"/>
<rect x="370.74" y="319.92" width="3.50" height="3.50" fill="#f00"/>
<rect x="373.46" y="307.47" width="3.50" height="3.50" fill="#f00"/>
<rect x="376.18" y="293.16" width="3.50" height="3.50" fill="#f00"/>
<rect x="378.91" y="283.39" width="3.50" height="3.50" fill="#f00"/>
<rect x="381.63" y="277.74" width="3.50" height="3.50" fill="#f00"/>
<rect x="384.35" y="273.37" width="3.50" height="3.50" fill="#f00"/>
<rect x="387.08" y="270.95" width="3.50" height="3.50" fill="#f00"/>
<rect x="389.80" y="269.17" width="3.50" height="3.50" fill="#f00"/>
<rect x="392.52" y="267.88" width="3.50" height="3.50" fill="#f00"/>
<rect x="395.24" y="266.97" width="3.50" height="3.50" fill="#f00"/>
<rect x="397.97" y="266.99" width="3.50" height="3.50" fill="#f00"/>
<rect x="400.69" y="267.67" width="3.50" height="3.50" fill="#f00"/>
<rect x="403.41" y="269.24" width="3.50" height="3.50" fill="#f00"/>
<rect x="406.14" y="271.49" width="3.50" height="3.50" fill="#f00"/>
<rect x="408.86" y="275.04" width="3.50" height="3.50" fill="#f00"/>
<rect x="411.58" y="279.39" width="3.50" height="3.50" fill="#f00"/>
<rect x="414.30" y="284.37" width="3.50" height="3.50" fill="#f00"/>
<rect x="417.03" y="290.54" width="3.50" height="3.50" fill="#f00"/>
<rect x="419.75" y="299.76" width="3.50" height="3.50" fill="#f00"/>
<rect x="422.47" y="308.80" width="3.50" height="3.50" fill="#f00"/>
<rect x="425.20" y="318.36" width="3.50" height="3.50" fill="#f00"/>
<rect x="427.92" y="327.94" width="3.50" height="3.50" fill="#f00"/>
<rect x="430.64" y="337.46" width="3.50" height="3.50" fill="#f00"/>
<rect x="433.36" y="346.57" width="3.50" height="3.50" fill="#f00"/>
<rect x="436.09" y="353.42" width="3.50" height="3.50" fill="#f00"/>
<rect x="438.81" y="358.70" width="3.50" height="3.50" fill="#f00"/>
<rect x="441.53" y="363.34" width="3.50" height="3.50" fill="#f00"/>
<rect x="444.26" y="367.97" width="3.50" height="3.50" fill="#f00"/>
<rect x="446.98" y="371.00" width="3.50" height="3.50" fill="#f00"/>
<rect x="449.70" y="373.26" width="3.50" height="3.50" fill="#f00"/>
<rect x="452.42" y="375.12" width="3.50" height="3.50" fill="#f00"/>
<rect x="455.15" y="376.73" width="3.50" height="3.50" fill="#f00"/>
<rect x="457.87" y="378.23" width="3.50" height="3.50" fill="#f00"/>
<rect x="460.59" y="379.71" width="3.50" height="3.50" fill="#f00"/>
<rect x="463.32" y="381.08" width="3.50" height="3.50" fill="#f00"/>
<rect x="466.04" y="382.39" width="3.50" height="3.50" fill="#f00"/>
<rect x="468.76" y="383.55" width="3.50" height="3.50" fill="#f00"/>
<rect x="471.48" y="384.42" width="3.50" height="3.50" fill="#f00"/>
<rect x="474.21" y="385.22" width="3.50" height="3.50" fill="#f00"/>
<rect x="476.93" y="385.70" width="3.50" height="3.50" fill="#f00"/>
<rect x="479.65" y="385.68" width="3.50" height="3.50" fill="#f00"/>
<rect x="482.38" y="385.34" width="3.50" height="3.50" fill="#f00"/>
<rect x="485.10" y="384.78" width="3.50" height="3.50" fill="#f00"/>
<rect x="487.82" y="383.58" width="3.50" height="3.50" fill="#f00"/>
<rect x="490.54" y="381.36" width="3.50" height="3.50" fill="#f00"/>
<rect x="495.75" y="375.25" width="3.50" height="3.50" fill="#f00"/>
<rect x="498.85" y="368.25" width="3.50" height="3.50" fill="#f00"/>
<rect x="501.65" y="360.25" width="3.50" height="3.50" fill="#f00"/>
<path d="M339.81 378.02L342.54 376.48L345.26 375.95L347.98 374.89L350.71 372.66L353.43 369.38L356.15 364.65L358.87 360.14L361.60 355.81L364.32 349.73L367.04 342.77L369.77 335.56L372.49 327.31L375.21 317.67L377.93 306.90L380.66 300.72L383.38 296.27L386.10 289.92L388.83 285.34L391.55 282.05L394.27 279.64L396.99 278.20L399.72 278.04L402.44 278.32L405.16 279.66L407.89 281.63L410.61 284.71L413.33 288.73L416.05 293.51L418.78 299.83L421.50 306.49L424.22 312.49L426.95 319.46L429.67 327.64L432.39 335.08L435.11 341.74L437.84 348.09L440.56 354.28L443.28 359.70L446.01 364.52L448.73 367.78L451.45 370.50L454.17 373.09L456.90 375.23L459.62 376.78L462.34 378.02L465.07 379.61L467.79 381.31L470.51 382.72L473.23 384.02L475.96 385.61L478.68 387.13L481.40 387.17L484.13 386.56L486.85 385.59L489.57 384.06L492.29 382.86L495.02 381.80L498.20 379.40L500.60 345.60L503.40 339.30" fill="none" stroke="#77f" stroke-width="0.75"/>
<rect x="338.06" y="376.27" width="3.50" height="3.50" fill="#00f"/>
<rect x="340.79" y="374.73" width="3.50" height="3.50" fill="#00f"/>
<rect x="343.51" y="374.20" width="3.50" height="3.50" fill="#00f"/>
<rect x="346.23" y="373.14" width="3.50" height="3.50" fill="#00f"/>
<rect x="348.96" y="370.91" width="3.50" height="3.50" fill="#00f"/>
<rect x="351.68" y="367.63" width="3.50" height="3.50" fill="#00f"/>
<rect x="354.40" y="362.90" width="3.50" height="3.50" fill="#00f"/>
<rect x="357.12" y="358.39" width="3.50" height="3.50" fill="#00f"/>
<rect x="359.85" y="354.06" width="3.50" height="3.50" fill="#00f"/>
<rect x="362.57" y="347.98" width="3.50" height="3.50" fill="#00f"/>
<rect x="365.29" y="341.02" width="3.50" height="3.50" fill="#00f"/>
<rect x="368.02" y="333.81" width="3.50" height="3.50" fill="#00f"/>
<rect x="370.74" y="325.56" width="3.50" height="3.50" fill="#00f"/>
<rect x="373.46" y="315.92" width="3.50" height="3.50" fill="#00f"/>
<rect x="376.18" y="305.15" width="3.50" height="3.50" fill="#00f"/>
<rect x="378.91" y="298.97" width="3.50" height="3.50" fill="#00f"/>
<rect x="381.63" y="294.52" width="3.50" height="3.50" fill="#00f"/>
<rect x="384.35" y="288.17" width="3.50" height="3.50" fill="#00f"/>
<rect x="387.08" y="283.59" width="3.50" height="3.50" fill="#00f"/>
<rect x="389.80" y="280.30" width="3.50" height="3.50" fill="#00f"/>
<rect x="392.52" y="277.89" width="3.50" height="3.50" fill="#00f"/>
<rect x="395.24" y="276.45" width="3.50" height="3.50" fill="#00f"/>
<rect x="397.97" y="276.29" width="3.50" height="3.50" fill="#00f"/>
<rect x="400.69" y="276.57" width="3.50" height="3.50" fill="#00f"/>
<rect x="403.41" y="277.91" width="3.50" height="3.50" fill="#00f"/>
<rect x="406.14" y="279.88" width="3.50" height="3.50" fill="#00f"/>
<rect x="408.86" y="282.96" width="3.50" height="3.50" fill="#00f"/>
<rect x="411.58" y="286.98" width="3.50" height="3.50" fill="#00f"/>
<rect x="414.30" y="291.76" width="3.50" height="3.50" fill="#00f"/>
<rect x="417.03" y="298.08" width="3.50" height="3.50" fill="#00f"/>
<rect x="419.75" y="304.74" width="3.50" height="3.50" fill="#00f"/>
<rect x="422.47" y="310.74" width="3.50" height="3.50" fill="#00f"/>
<rect x="425.20" y="317.71" width="3.50" height="3.50" fill="#00f"/>
<rect x="427.92" y="325.89" width="3.50" height="3.50" fill="#00f"/>
<rect x="430.64" y="333.33" width="3.50" height="3.50" fill="#00f"/>
<rect x="433.36" y="339.99" width="3.50" height="3.50" fill="#00f"/>
<rect x="436.09" y="346.34" width="3.50" height="3.50" fill="#00f"/>
<rect x="438.81" y="352.53" width="3.50" height="3.50" fill="#00f"/>
<rect x="441.53" y="357.95" width="3.50" height="3.50" fill="#00f"/>
<rect x="444.26" y="362.77" width="3.50" height="3.50" fill="#00f"/>
<rect x="446.98" y="366.03" width="3.50" height="3.50" fill="#00f"/>
<rect x="449.70" y="368.75" width="3.50" height="3.50" fill="#00f"/>
<rect x="452.42" y="371.34" width="3.50" height="3.50" fill="#00f"/>
<rect x="455.15" y="373.48" width="3.50" height="3.50" fill="#00f"/>
<rect x="457.87" y="375.03" width="3.50" height="3.50" fill="#00f"/>
<rect x="460.59" y="376.27" width="3.50" height="3.50" fill="#00f"/>
<rect x="463.32" y="377.86" width="3.50" height="3.50" fill="#00f"/>
<rect x="466.04" y="379.56" width="3.50" height="3.50" fill="#00f"/>
<rect x="468.76" y="380.97" width="3.50" height="3.50" fill="#00f"/>
<rect x="471.48" y="382.27" width="3.50" height="3.50" fill="#00f"/>
<rect x="474.21" y="383.86" width="3.50" height="3.50" fill="#00f"/>
<rect x="476.93" y="385.38" width="3.50" height="3.50" fill="#00f"/>
<rect x="479.65" y="385.42" width="3.50" height="3.50" fill="#00f"/>
<rect x="482.38" y="384.81" width="3.50" height="3.50" fill="#00f"/>
<rect x="485.10" y="383.84" width="3.50" height="3.50" fill="#00f"/>
<rect x="487.82" y="382.31" width="3.50" height="3.50" fill="#00f"/>
<rect x="490.54" y="381.11" width="3.50" height="3.50" fill="#00f"/>
<rect x="493.27" y="380.05" width="3.50" height="3.50" fill="#00f"/>
<rect x="496.45" y="377.65" width="3.50" height="3.50" fill="#00f"/>
<rect x="498.85" y="343.85" width="3.50" height="3.50" fill="#00f"/>
<rect x="501.65" y="337.55" width="3.50" height="3.50" fill="#00f"/>
<rect x="44.70" y="7.20" width="220.30" height="171.30" fill="none" stroke="#111" stroke-width="1.6"/>
<rect x="329.20" y="5.20" width="189.30" height="177.00" fill="none" stroke="#111" stroke-width="1.6"/>
<rect x="43.90" y="231.20" width="223.30" height="168.50" fill="none" stroke="#111" stroke-width="1.6"/>
<rect x="326.20" y="229.90" width="190.60" height="175.30" fill="none" stroke="#111" stroke-width="1.6"/>
<line x1="44.70" y1="178.50" x2="44.70" y2="181.70" stroke="#000" stroke-width="1.1"/>
<line x1="88.76" y1="178.50" x2="88.76" y2="181.70" stroke="#000" stroke-width="1.1"/>
<line x1="132.82" y1="178.50" x2="132.82" y2="181.70" stroke="#000" stroke-width="1.1"/>
<line x1="176.88" y1="178.50" x2="176.88" y2="181.70" stroke="#000" stroke-width="1.1"/>
<line x1="220.94" y1="178.50" x2="220.94" y2="181.70" stroke="#000" stroke-width="1.1"/>
<line x1="265.00" y1="178.50" x2="265.00" y2="181.70" stroke="#000" stroke-width="1.1"/>
<line x1="66.73" y1="178.50" x2="66.73" y2="180.30" stroke="#000" stroke-width="1.1"/>
<line x1="110.79" y1="178.50" x2="110.79" y2="180.30" stroke="#000" stroke-width="1.1"/>
<line x1="154.85" y1="178.50" x2="154.85" y2="180.30" stroke="#000" stroke-width="1.1"/>
<line x1="198.91" y1="178.50" x2="198.91" y2="180.30" stroke="#000" stroke-width="1.1"/>
<line x1="242.97" y1="178.50" x2="242.97" y2="180.30" stroke="#000" stroke-width="1.1"/>
<text x="44.70" y="191.50" font-size="9.8" font-weight="bold" text-anchor="middle" fill="#000" font-family='"Liberation Sans", sans-serif' >0</text>
<text x="88.76" y="191.50" font-size="9.8" font-weight="bold" text-anchor="middle" fill="#000" font-family='"Liberation Sans", sans-serif' >10</text>
<text x="132.82" y="191.50" font-size="9.8" font-weight="bold" text-anchor="middle" fill="#000" font-family='"Liberation Sans", sans-serif' >20</text>
<text x="176.88" y="191.50" font-size="9.8" font-weight="bold" text-anchor="middle" fill="#000" font-family='"Liberation Sans", sans-serif' >30</text>
<text x="220.94" y="191.50" font-size="9.8" font-weight="bold" text-anchor="middle" fill="#000" font-family='"Liberation Sans", sans-serif' >40</text>
<text x="265.00" y="191.50" font-size="9.8" font-weight="bold" text-anchor="middle" fill="#000" font-family='"Liberation Sans", sans-serif' >50</text>
<line x1="44.70" y1="178.50" x2="41.50" y2="178.50" stroke="#000" stroke-width="1.1"/>
<line x1="44.70" y1="144.24" x2="41.50" y2="144.24" stroke="#000" stroke-width="1.1"/>
<line x1="44.70" y1="109.98" x2="41.50" y2="109.98" stroke="#000" stroke-width="1.1"/>
<line x1="44.70" y1="75.72" x2="41.50" y2="75.72" stroke="#000" stroke-width="1.1"/>
<line x1="44.70" y1="41.46" x2="41.50" y2="41.46" stroke="#000" stroke-width="1.1"/>
<line x1="44.70" y1="7.20" x2="41.50" y2="7.20" stroke="#000" stroke-width="1.1"/>
<line x1="44.70" y1="161.37" x2="42.90" y2="161.37" stroke="#000" stroke-width="1.1"/>
<line x1="44.70" y1="127.11" x2="42.90" y2="127.11" stroke="#000" stroke-width="1.1"/>
<line x1="44.70" y1="92.85" x2="42.90" y2="92.85" stroke="#000" stroke-width="1.1"/>
<line x1="44.70" y1="58.59" x2="42.90" y2="58.59" stroke="#000" stroke-width="1.1"/>
<line x1="44.70" y1="24.33" x2="42.90" y2="24.33" stroke="#000" stroke-width="1.1"/>
<text x="38.00" y="182.00" font-size="9.8" font-weight="bold" text-anchor="end" fill="#000" font-family='"Liberation Sans", sans-serif' >0</text>
<text x="38.00" y="147.74" font-size="9.8" font-weight="bold" text-anchor="end" fill="#000" font-family='"Liberation Sans", sans-serif' >10</text>
<text x="38.00" y="113.48" font-size="9.8" font-weight="bold" text-anchor="end" fill="#000" font-family='"Liberation Sans", sans-serif' >20</text>
<text x="38.00" y="79.22" font-size="9.8" font-weight="bold" text-anchor="end" fill="#000" font-family='"Liberation Sans", sans-serif' >30</text>
<text x="38.00" y="44.96" font-size="9.8" font-weight="bold" text-anchor="end" fill="#000" font-family='"Liberation Sans", sans-serif' >40</text>
<text x="38.00" y="10.70" font-size="9.8" font-weight="bold" text-anchor="end" fill="#000" font-family='"Liberation Sans", sans-serif' >50</text>
<text x="154.6" y="208.5" font-size="11" font-weight="bold" text-anchor="middle" font-family='"Liberation Sans", sans-serif'>Z<tspan font-size="10" dy="1.8">re</tspan><tspan dy="-1.8"> (Ω cm</tspan><tspan font-size="9" dy="-5">2</tspan><tspan dy="5">)</tspan></text>
<text transform="translate(22.5 94) rotate(-90)" font-size="11" font-weight="bold" text-anchor="middle" font-family='"Liberation Sans", sans-serif'>−Z<tspan font-size="9.5" dy="1.8">img</tspan><tspan dy="-1.8"> (Ω cm</tspan><tspan font-size="9" dy="-5">2</tspan><tspan dy="5">)</tspan></text>
<text x="160.00" y="20.20" font-size="9.5" font-weight="bold" text-anchor="middle" fill="#000" font-family='"Liberation Sans", sans-serif' >Blank</text>
<rect x="214.6" y="11.5" width="42" height="25" fill="#fff" stroke="#222" stroke-width="1.2"/>
<text x="235.60" y="29.85" font-size="15" font-weight="bold" text-anchor="middle" fill="#000" font-family='"Liberation Serif", serif' >(a)</text>
<rect x="48.3" y="10.2" width="46.5" height="37.5" fill="#fff" stroke="#999" stroke-width="0.9"/>
<line x1="49.5" y1="17.9" x2="70.5" y2="17.9" stroke="#888" stroke-width="0.9"/>
<rect x="58.20" y="16.10" width="3.60" height="3.60" fill="#000"/>
<text x="72.70" y="21.14" font-size="9" font-weight="normal" text-anchor="start" fill="#000" font-family='"Liberation Sans", sans-serif' >25°C</text>
<line x1="49.5" y1="29.8" x2="70.5" y2="29.8" stroke="#f77" stroke-width="0.9"/>
<circle cx="60.00" cy="29.80" r="2.16" fill="#f00"/>
<text x="72.70" y="33.04" font-size="9" font-weight="normal" text-anchor="start" fill="#000" font-family='"Liberation Sans", sans-serif' >40°C</text>
<line x1="49.5" y1="41.7" x2="70.5" y2="41.7" stroke="#99f" stroke-width="0.9"/>
<path d="M60.00 39.07L62.52 43.61L57.48 43.61Z" fill="#00f"/>
<text x="72.70" y="44.94" font-size="9" font-weight="normal" text-anchor="start" fill="#000" font-family='"Liberation Sans", sans-serif' >60°C</text>
<line x1="342.72" y1="182.20" x2="342.72" y2="185.40" stroke="#000" stroke-width="1.1"/>
<line x1="369.76" y1="182.20" x2="369.76" y2="185.40" stroke="#000" stroke-width="1.1"/>
<line x1="396.81" y1="182.20" x2="396.81" y2="185.40" stroke="#000" stroke-width="1.1"/>
<line x1="423.85" y1="182.20" x2="423.85" y2="185.40" stroke="#000" stroke-width="1.1"/>
<line x1="450.89" y1="182.20" x2="450.89" y2="185.40" stroke="#000" stroke-width="1.1"/>
<line x1="477.94" y1="182.20" x2="477.94" y2="185.40" stroke="#000" stroke-width="1.1"/>
<line x1="504.98" y1="182.20" x2="504.98" y2="185.40" stroke="#000" stroke-width="1.1"/>
<line x1="329.20" y1="182.20" x2="329.20" y2="184.00" stroke="#000" stroke-width="1.1"/>
<line x1="356.24" y1="182.20" x2="356.24" y2="184.00" stroke="#000" stroke-width="1.1"/>
<line x1="383.29" y1="182.20" x2="383.29" y2="184.00" stroke="#000" stroke-width="1.1"/>
<line x1="410.33" y1="182.20" x2="410.33" y2="184.00" stroke="#000" stroke-width="1.1"/>
<line x1="437.37" y1="182.20" x2="437.37" y2="184.00" stroke="#000" stroke-width="1.1"/>
<line x1="464.41" y1="182.20" x2="464.41" y2="184.00" stroke="#000" stroke-width="1.1"/>
<line x1="491.46" y1="182.20" x2="491.46" y2="184.00" stroke="#000" stroke-width="1.1"/>
<line x1="518.50" y1="182.20" x2="518.50" y2="184.00" stroke="#000" stroke-width="1.1"/>
<text transform="translate(342.72 196.00) scale(0.9 1)" font-size="9.9" font-weight="bold" text-anchor="middle" fill="#000" font-family='"Liberation Sans", sans-serif' >-1</text>
<text transform="translate(369.76 196.00) scale(0.9 1)" font-size="9.9" font-weight="bold" text-anchor="middle" fill="#000" font-family='"Liberation Sans", sans-serif' >0</text>
<text transform="translate(396.81 196.00) scale(0.9 1)" font-size="9.9" font-weight="bold" text-anchor="middle" fill="#000" font-family='"Liberation Sans", sans-serif' >1</text>
<text transform="translate(423.85 196.00) scale(0.9 1)" font-size="9.9" font-weight="bold" text-anchor="middle" fill="#000" font-family='"Liberation Sans", sans-serif' >2</text>
<text transform="translate(450.89 196.00) scale(0.9 1)" font-size="9.9" font-weight="bold" text-anchor="middle" fill="#000" font-family='"Liberation Sans", sans-serif' >3</text>
<text transform="translate(477.94 196.00) scale(0.9 1)" font-size="9.9" font-weight="bold" text-anchor="middle" fill="#000" font-family='"Liberation Sans", sans-serif' >4</text>
<text transform="translate(504.98 196.00) scale(0.9 1)" font-size="9.9" font-weight="bold" text-anchor="middle" fill="#000" font-family='"Liberation Sans", sans-serif' >5</text>
<line x1="329.20" y1="182.20" x2="326.00" y2="182.20" stroke="#000" stroke-width="1.1"/>
<line x1="329.20" y1="164.50" x2="326.00" y2="164.50" stroke="#000" stroke-width="1.1"/>
<line x1="329.20" y1="146.80" x2="326.00" y2="146.80" stroke="#000" stroke-width="1.1"/>
<line x1="329.20" y1="129.10" x2="326.00" y2="129.10" stroke="#000" stroke-width="1.1"/>
<line x1="329.20" y1="111.40" x2="326.00" y2="111.40" stroke="#000" stroke-width="1.1"/>
<line x1="329.20" y1="93.70" x2="326.00" y2="93.70" stroke="#000" stroke-width="1.1"/>
<line x1="329.20" y1="76.00" x2="326.00" y2="76.00" stroke="#000" stroke-width="1.1"/>
<line x1="329.20" y1="58.30" x2="326.00" y2="58.30" stroke="#000" stroke-width="1.1"/>
<line x1="329.20" y1="40.60" x2="326.00" y2="40.60" stroke="#000" stroke-width="1.1"/>
<line x1="329.20" y1="22.90" x2="326.00" y2="22.90" stroke="#000" stroke-width="1.1"/>
<line x1="329.20" y1="5.20" x2="326.00" y2="5.20" stroke="#000" stroke-width="1.1"/>
<line x1="329.20" y1="173.35" x2="327.40" y2="173.35" stroke="#000" stroke-width="1.1"/>
<line x1="329.20" y1="155.65" x2="327.40" y2="155.65" stroke="#000" stroke-width="1.1"/>
<line x1="329.20" y1="137.95" x2="327.40" y2="137.95" stroke="#000" stroke-width="1.1"/>
<line x1="329.20" y1="120.25" x2="327.40" y2="120.25" stroke="#000" stroke-width="1.1"/>
<line x1="329.20" y1="102.55" x2="327.40" y2="102.55" stroke="#000" stroke-width="1.1"/>
<line x1="329.20" y1="84.85" x2="327.40" y2="84.85" stroke="#000" stroke-width="1.1"/>
<line x1="329.20" y1="67.15" x2="327.40" y2="67.15" stroke="#000" stroke-width="1.1"/>
<line x1="329.20" y1="49.45" x2="327.40" y2="49.45" stroke="#000" stroke-width="1.1"/>
<line x1="329.20" y1="31.75" x2="327.40" y2="31.75" stroke="#000" stroke-width="1.1"/>
<line x1="329.20" y1="14.05" x2="327.40" y2="14.05" stroke="#000" stroke-width="1.1"/>
<text transform="translate(324.60 185.80) scale(0.85 1)" font-size="10.2" font-weight="bold" text-anchor="end" fill="#000" font-family='"Liberation Sans", sans-serif' >-0.2</text>
<text transform="translate(324.60 168.10) scale(0.85 1)" font-size="10.2" font-weight="bold" text-anchor="end" fill="#000" font-family='"Liberation Sans", sans-serif' >0.0</text>
<text transform="translate(324.60 150.40) scale(0.85 1)" font-size="10.2" font-weight="bold" text-anchor="end" fill="#000" font-family='"Liberation Sans", sans-serif' >0.2</text>
<text transform="translate(324.60 132.70) scale(0.85 1)" font-size="10.2" font-weight="bold" text-anchor="end" fill="#000" font-family='"Liberation Sans", sans-serif' >0.4</text>
<text transform="translate(324.60 115.00) scale(0.85 1)" font-size="10.2" font-weight="bold" text-anchor="end" fill="#000" font-family='"Liberation Sans", sans-serif' >0.6</text>
<text transform="translate(324.60 97.30) scale(0.85 1)" font-size="10.2" font-weight="bold" text-anchor="end" fill="#000" font-family='"Liberation Sans", sans-serif' >0.8</text>
<text transform="translate(324.60 79.60) scale(0.85 1)" font-size="10.2" font-weight="bold" text-anchor="end" fill="#000" font-family='"Liberation Sans", sans-serif' >1.0</text>
<text transform="translate(324.60 61.90) scale(0.85 1)" font-size="10.2" font-weight="bold" text-anchor="end" fill="#000" font-family='"Liberation Sans", sans-serif' >1.2</text>
<text transform="translate(324.60 44.20) scale(0.85 1)" font-size="10.2" font-weight="bold" text-anchor="end" fill="#000" font-family='"Liberation Sans", sans-serif' >1.4</text>
<text transform="translate(324.60 26.50) scale(0.85 1)" font-size="10.2" font-weight="bold" text-anchor="end" fill="#000" font-family='"Liberation Sans", sans-serif' >1.6</text>
<text transform="translate(324.60 8.80) scale(0.85 1)" font-size="10.2" font-weight="bold" text-anchor="end" fill="#000" font-family='"Liberation Sans", sans-serif' >1.8</text>
<line x1="518.50" y1="160.07" x2="521.70" y2="160.07" stroke="#000" stroke-width="1.1"/>
<line x1="518.50" y1="115.82" x2="521.70" y2="115.82" stroke="#000" stroke-width="1.1"/>
<line x1="518.50" y1="71.57" x2="521.70" y2="71.57" stroke="#000" stroke-width="1.1"/>
<line x1="518.50" y1="27.32" x2="521.70" y2="27.32" stroke="#000" stroke-width="1.1"/>
<line x1="518.50" y1="182.20" x2="520.30" y2="182.20" stroke="#000" stroke-width="1.1"/>
<line x1="518.50" y1="137.95" x2="520.30" y2="137.95" stroke="#000" stroke-width="1.1"/>
<line x1="518.50" y1="93.70" x2="520.30" y2="93.70" stroke="#000" stroke-width="1.1"/>
<line x1="518.50" y1="49.45" x2="520.30" y2="49.45" stroke="#000" stroke-width="1.1"/>
<line x1="518.50" y1="5.20" x2="520.30" y2="5.20" stroke="#000" stroke-width="1.1"/>
<text transform="translate(523.00 163.57) scale(0.9 1)" font-size="9.9" font-weight="bold" text-anchor="start" fill="#000" font-family='"Liberation Sans", sans-serif' >0</text>
<text transform="translate(523.00 119.32) scale(0.9 1)" font-size="9.9" font-weight="bold" text-anchor="start" fill="#000" font-family='"Liberation Sans", sans-serif' >20</text>
<text transform="translate(523.00 75.07) scale(0.9 1)" font-size="9.9" font-weight="bold" text-anchor="start" fill="#000" font-family='"Liberation Sans", sans-serif' >40</text>
<text transform="translate(523.00 30.82) scale(0.9 1)" font-size="9.9" font-weight="bold" text-anchor="start" fill="#000" font-family='"Liberation Sans", sans-serif' >60</text>
<text x="423.40" y="211.10" font-size="10" font-weight="bold" text-anchor="middle" fill="#000" font-family='"Liberation Sans", sans-serif' >log f (Hz)</text>
<text transform="translate(306.3 93.5) rotate(-90)" font-size="10" font-weight="bold" text-anchor="middle" font-family='"Liberation Sans", sans-serif'>log <tspan font-style="italic">/Z/</tspan> (Ω cm<tspan font-size="8.5" dy="-4">2</tspan><tspan dy="4">)</tspan></text>
<text transform="translate(544.5 92.5) rotate(-90)" font-size="11" font-weight="bold" text-anchor="middle" font-family='"Liberation Sans", sans-serif'>Phase angle (deg.)</text>
<text x="424.50" y="17.60" font-size="9" font-weight="bold" text-anchor="middle" fill="#000" font-family='"Liberation Sans", sans-serif' >Blank</text>
<rect x="436.4" y="21.5" width="35" height="25" fill="#fff" stroke="#222" stroke-width="1.2"/>
<text x="453.90" y="39.85" font-size="15" font-weight="bold" text-anchor="middle" fill="#000" font-family='"Liberation Serif", serif' >(b)</text>
<rect x="475.4" y="7.1" width="40.5" height="39.4" fill="#fff" stroke="#999" stroke-width="0.9"/>
<line x1="476.4" y1="15.2" x2="494.5" y2="15.2" stroke="#888" stroke-width="0.9"/>
<rect x="483.80" y="13.55" width="3.30" height="3.30" fill="#000"/>
<text transform="translate(496.60 18.30) scale(0.9 1)" font-size="8.6" font-weight="bold" text-anchor="start" fill="#000" font-family='"Liberation Sans", sans-serif' >25°C</text>
<line x1="476.4" y1="27.9" x2="494.5" y2="27.9" stroke="#f77" stroke-width="0.9"/>
<circle cx="485.45" cy="27.90" r="1.98" fill="#f00"/>
<text transform="translate(496.60 31.00) scale(0.9 1)" font-size="8.6" font-weight="bold" text-anchor="start" fill="#000" font-family='"Liberation Sans", sans-serif' >40°C</text>
<line x1="476.4" y1="40.1" x2="494.5" y2="40.1" stroke="#99f" stroke-width="0.9"/>
<path d="M485.45 37.69L487.76 41.85L483.14 41.85Z" fill="#00f"/>
<text transform="translate(496.60 43.20) scale(0.9 1)" font-size="8.6" font-weight="bold" text-anchor="start" fill="#000" font-family='"Liberation Sans", sans-serif' >60°C</text>
<path d="M338.5 27.4 L331.5 27.4" stroke="#000" stroke-width="1.2"/><path d="M330.5 27.4 L337.5 24.6 L337.5 30.2Z" fill="#000"/>
<path d="M433.6 53.6 L512 53.6" stroke="#000" stroke-width="1.2"/><path d="M517.8 53.6 L510.5 50.8 L510.5 56.4Z" fill="#000"/>
<line x1="43.90" y1="399.70" x2="43.90" y2="402.90" stroke="#000" stroke-width="1.1"/>
<line x1="81.12" y1="399.70" x2="81.12" y2="402.90" stroke="#000" stroke-width="1.1"/>
<line x1="118.33" y1="399.70" x2="118.33" y2="402.90" stroke="#000" stroke-width="1.1"/>
<line x1="155.55" y1="399.70" x2="155.55" y2="402.90" stroke="#000" stroke-width="1.1"/>
<line x1="192.77" y1="399.70" x2="192.77" y2="402.90" stroke="#000" stroke-width="1.1"/>
<line x1="229.98" y1="399.70" x2="229.98" y2="402.90" stroke="#000" stroke-width="1.1"/>
<line x1="267.20" y1="399.70" x2="267.20" y2="402.90" stroke="#000" stroke-width="1.1"/>
<line x1="62.51" y1="399.70" x2="62.51" y2="401.50" stroke="#000" stroke-width="1.1"/>
<line x1="99.72" y1="399.70" x2="99.72" y2="401.50" stroke="#000" stroke-width="1.1"/>
<line x1="136.94" y1="399.70" x2="136.94" y2="401.50" stroke="#000" stroke-width="1.1"/>
<line x1="174.16" y1="399.70" x2="174.16" y2="401.50" stroke="#000" stroke-width="1.1"/>
<line x1="211.37" y1="399.70" x2="211.37" y2="401.50" stroke="#000" stroke-width="1.1"/>
<line x1="248.59" y1="399.70" x2="248.59" y2="401.50" stroke="#000" stroke-width="1.1"/>
<text transform="translate(43.90 413.30) scale(0.98 1)" font-size="10.2" font-weight="bold" text-anchor="middle" fill="#000" font-family='"Liberation Sans", sans-serif' >0</text>
<text transform="translate(81.12 413.30) scale(0.98 1)" font-size="10.2" font-weight="bold" text-anchor="middle" fill="#000" font-family='"Liberation Sans", sans-serif' >100</text>
<text transform="translate(118.33 413.30) scale(0.98 1)" font-size="10.2" font-weight="bold" text-anchor="middle" fill="#000" font-family='"Liberation Sans", sans-serif' >200</text>
<text transform="translate(155.55 413.30) scale(0.98 1)" font-size="10.2" font-weight="bold" text-anchor="middle" fill="#000" font-family='"Liberation Sans", sans-serif' >300</text>
<text transform="translate(192.77 413.30) scale(0.98 1)" font-size="10.2" font-weight="bold" text-anchor="middle" fill="#000" font-family='"Liberation Sans", sans-serif' >400</text>
<text transform="translate(229.98 413.30) scale(0.98 1)" font-size="10.2" font-weight="bold" text-anchor="middle" fill="#000" font-family='"Liberation Sans", sans-serif' >500</text>
<text transform="translate(267.20 413.30) scale(0.98 1)" font-size="10.2" font-weight="bold" text-anchor="middle" fill="#000" font-family='"Liberation Sans", sans-serif' >600</text>
<line x1="43.90" y1="399.70" x2="40.70" y2="399.70" stroke="#000" stroke-width="1.1"/>
<line x1="43.90" y1="371.62" x2="40.70" y2="371.62" stroke="#000" stroke-width="1.1"/>
<line x1="43.90" y1="343.53" x2="40.70" y2="343.53" stroke="#000" stroke-width="1.1"/>
<line x1="43.90" y1="315.45" x2="40.70" y2="315.45" stroke="#000" stroke-width="1.1"/>
<line x1="43.90" y1="287.37" x2="40.70" y2="287.37" stroke="#000" stroke-width="1.1"/>
<line x1="43.90" y1="259.28" x2="40.70" y2="259.28" stroke="#000" stroke-width="1.1"/>
<line x1="43.90" y1="231.20" x2="40.70" y2="231.20" stroke="#000" stroke-width="1.1"/>
<line x1="43.90" y1="385.66" x2="42.10" y2="385.66" stroke="#000" stroke-width="1.1"/>
<line x1="43.90" y1="357.57" x2="42.10" y2="357.57" stroke="#000" stroke-width="1.1"/>
<line x1="43.90" y1="329.49" x2="42.10" y2="329.49" stroke="#000" stroke-width="1.1"/>
<line x1="43.90" y1="301.41" x2="42.10" y2="301.41" stroke="#000" stroke-width="1.1"/>
<line x1="43.90" y1="273.32" x2="42.10" y2="273.32" stroke="#000" stroke-width="1.1"/>
<line x1="43.90" y1="245.24" x2="42.10" y2="245.24" stroke="#000" stroke-width="1.1"/>
<text transform="translate(37.60 402.40) scale(0.98 1)" font-size="10.2" font-weight="bold" text-anchor="end" fill="#000" font-family='"Liberation Sans", sans-serif' >0</text>
<text transform="translate(37.60 374.32) scale(0.98 1)" font-size="10.2" font-weight="bold" text-anchor="end" fill="#000" font-family='"Liberation Sans", sans-serif' >100</text>
<text transform="translate(37.60 346.23) scale(0.98 1)" font-size="10.2" font-weight="bold" text-anchor="end" fill="#000" font-family='"Liberation Sans", sans-serif' >200</text>
<text transform="translate(37.60 318.15) scale(0.98 1)" font-size="10.2" font-weight="bold" text-anchor="end" fill="#000" font-family='"Liberation Sans", sans-serif' >300</text>
<text transform="translate(37.60 290.07) scale(0.98 1)" font-size="10.2" font-weight="bold" text-anchor="end" fill="#000" font-family='"Liberation Sans", sans-serif' >400</text>
<text transform="translate(37.60 261.98) scale(0.98 1)" font-size="10.2" font-weight="bold" text-anchor="end" fill="#000" font-family='"Liberation Sans", sans-serif' >500</text>
<text transform="translate(37.60 233.90) scale(0.98 1)" font-size="10.2" font-weight="bold" text-anchor="end" fill="#000" font-family='"Liberation Sans", sans-serif' >600</text>
<text x="154.6" y="430.5" font-size="11" font-weight="bold" text-anchor="middle" font-family='"Liberation Sans", sans-serif'>Z<tspan font-size="10" dy="1.8">re</tspan><tspan dy="-1.8"> (Ω cm</tspan><tspan font-size="9" dy="-5">2</tspan><tspan dy="5">)</tspan></text>
<text transform="translate(16.9 316.3) rotate(-90)" font-size="11" font-weight="bold" text-anchor="middle" font-family='"Liberation Sans", sans-serif'>−Z<tspan font-size="9.5" dy="1.8">img</tspan><tspan dy="-1.8"> (Ω cm</tspan><tspan font-size="9" dy="-5">2</tspan><tspan dy="5">)</tspan></text>
<text transform="translate(155.80 243.60) scale(1.08 1)" font-size="9.4" font-weight="bold" text-anchor="middle" fill="#000" font-family='"Liberation Sans", sans-serif' >0.3% Chi-AgNPs</text>
<rect x="54.2" y="237.7" width="43" height="25.4" fill="#fff" stroke="#222" stroke-width="1.2"/>
<text x="75.70" y="256.25" font-size="15" font-weight="bold" text-anchor="middle" fill="#000" font-family='"Liberation Serif", serif' >(c)</text>
<rect x="215.4" y="232.5" width="47.4" height="37.5" fill="#fff" stroke="#999" stroke-width="0.9"/>
<line x1="216.4" y1="239.7" x2="237.5" y2="239.7" stroke="#888" stroke-width="0.9"/>
<rect x="225.15" y="237.90" width="3.60" height="3.60" fill="#000"/>
<text x="240.70" y="242.94" font-size="9" font-weight="bold" text-anchor="start" fill="#000" font-family='"Liberation Sans", sans-serif' >25°C</text>
<line x1="216.4" y1="252.0" x2="237.5" y2="252.0" stroke="#f77" stroke-width="0.9"/>
<circle cx="226.95" cy="252.00" r="2.16" fill="#f00"/>
<text x="240.70" y="255.24" font-size="9" font-weight="bold" text-anchor="start" fill="#000" font-family='"Liberation Sans", sans-serif' >40°C</text>
<line x1="216.4" y1="264.3" x2="237.5" y2="264.3" stroke="#99f" stroke-width="0.9"/>
<path d="M226.95 261.67L229.47 266.21L224.43 266.21Z" fill="#00f"/>
<text x="240.70" y="267.54" font-size="9" font-weight="bold" text-anchor="start" fill="#000" font-family='"Liberation Sans", sans-serif' >60°C</text>
<line x1="339.81" y1="405.20" x2="339.81" y2="408.40" stroke="#000" stroke-width="1.1"/>
<line x1="367.04" y1="405.20" x2="367.04" y2="408.40" stroke="#000" stroke-width="1.1"/>
<line x1="394.27" y1="405.20" x2="394.27" y2="408.40" stroke="#000" stroke-width="1.1"/>
<line x1="421.50" y1="405.20" x2="421.50" y2="408.40" stroke="#000" stroke-width="1.1"/>
<line x1="448.73" y1="405.20" x2="448.73" y2="408.40" stroke="#000" stroke-width="1.1"/>
<line x1="475.96" y1="405.20" x2="475.96" y2="408.40" stroke="#000" stroke-width="1.1"/>
<line x1="503.19" y1="405.20" x2="503.19" y2="408.40" stroke="#000" stroke-width="1.1"/>
<line x1="326.20" y1="405.20" x2="326.20" y2="407.00" stroke="#000" stroke-width="1.1"/>
<line x1="353.43" y1="405.20" x2="353.43" y2="407.00" stroke="#000" stroke-width="1.1"/>
<line x1="380.66" y1="405.20" x2="380.66" y2="407.00" stroke="#000" stroke-width="1.1"/>
<line x1="407.89" y1="405.20" x2="407.89" y2="407.00" stroke="#000" stroke-width="1.1"/>
<line x1="435.11" y1="405.20" x2="435.11" y2="407.00" stroke="#000" stroke-width="1.1"/>
<line x1="462.34" y1="405.20" x2="462.34" y2="407.00" stroke="#000" stroke-width="1.1"/>
<line x1="489.57" y1="405.20" x2="489.57" y2="407.00" stroke="#000" stroke-width="1.1"/>
<line x1="516.80" y1="405.20" x2="516.80" y2="407.00" stroke="#000" stroke-width="1.1"/>
<text transform="translate(339.81 419.00) scale(0.9 1)" font-size="9.9" font-weight="bold" text-anchor="middle" fill="#000" font-family='"Liberation Sans", sans-serif' >-1</text>
<text transform="translate(367.04 419.00) scale(0.9 1)" font-size="9.9" font-weight="bold" text-anchor="middle" fill="#000" font-family='"Liberation Sans", sans-serif' >0</text>
<text transform="translate(394.27 419.00) scale(0.9 1)" font-size="9.9" font-weight="bold" text-anchor="middle" fill="#000" font-family='"Liberation Sans", sans-serif' >1</text>
<text transform="translate(421.50 419.00) scale(0.9 1)" font-size="9.9" font-weight="bold" text-anchor="middle" fill="#000" font-family='"Liberation Sans", sans-serif' >2</text>
<text transform="translate(448.73 419.00) scale(0.9 1)" font-size="9.9" font-weight="bold" text-anchor="middle" fill="#000" font-family='"Liberation Sans", sans-serif' >3</text>
<text transform="translate(475.96 419.00) scale(0.9 1)" font-size="9.9" font-weight="bold" text-anchor="middle" fill="#000" font-family='"Liberation Sans", sans-serif' >4</text>
<text transform="translate(503.19 419.00) scale(0.9 1)" font-size="9.9" font-weight="bold" text-anchor="middle" fill="#000" font-family='"Liberation Sans", sans-serif' >5</text>
<line x1="326.20" y1="391.72" x2="323.00" y2="391.72" stroke="#000" stroke-width="1.1"/>
<line x1="326.20" y1="364.75" x2="323.00" y2="364.75" stroke="#000" stroke-width="1.1"/>
<line x1="326.20" y1="337.78" x2="323.00" y2="337.78" stroke="#000" stroke-width="1.1"/>
<line x1="326.20" y1="310.81" x2="323.00" y2="310.81" stroke="#000" stroke-width="1.1"/>
<line x1="326.20" y1="283.84" x2="323.00" y2="283.84" stroke="#000" stroke-width="1.1"/>
<line x1="326.20" y1="256.87" x2="323.00" y2="256.87" stroke="#000" stroke-width="1.1"/>
<line x1="326.20" y1="229.90" x2="323.00" y2="229.90" stroke="#000" stroke-width="1.1"/>
<line x1="326.20" y1="405.20" x2="324.40" y2="405.20" stroke="#000" stroke-width="1.1"/>
<line x1="326.20" y1="378.23" x2="324.40" y2="378.23" stroke="#000" stroke-width="1.1"/>
<line x1="326.20" y1="351.26" x2="324.40" y2="351.26" stroke="#000" stroke-width="1.1"/>
<line x1="326.20" y1="324.29" x2="324.40" y2="324.29" stroke="#000" stroke-width="1.1"/>
<line x1="326.20" y1="297.32" x2="324.40" y2="297.32" stroke="#000" stroke-width="1.1"/>
<line x1="326.20" y1="270.35" x2="324.40" y2="270.35" stroke="#000" stroke-width="1.1"/>
<line x1="326.20" y1="243.38" x2="324.40" y2="243.38" stroke="#000" stroke-width="1.1"/>
<text transform="translate(321.40 395.32) scale(0.85 1)" font-size="10.2" font-weight="bold" text-anchor="end" fill="#000" font-family='"Liberation Sans", sans-serif' >0.0</text>
<text transform="translate(321.40 368.35) scale(0.85 1)" font-size="10.2" font-weight="bold" text-anchor="end" fill="#000" font-family='"Liberation Sans", sans-serif' >0.5</text>
<text transform="translate(321.40 341.38) scale(0.85 1)" font-size="10.2" font-weight="bold" text-anchor="end" fill="#000" font-family='"Liberation Sans", sans-serif' >1.0</text>
<text transform="translate(321.40 314.41) scale(0.85 1)" font-size="10.2" font-weight="bold" text-anchor="end" fill="#000" font-family='"Liberation Sans", sans-serif' >1.5</text>
<text transform="translate(321.40 287.44) scale(0.85 1)" font-size="10.2" font-weight="bold" text-anchor="end" fill="#000" font-family='"Liberation Sans", sans-serif' >2.0</text>
<text transform="translate(321.40 260.47) scale(0.85 1)" font-size="10.2" font-weight="bold" text-anchor="end" fill="#000" font-family='"Liberation Sans", sans-serif' >2.5</text>
<text transform="translate(321.40 233.50) scale(0.85 1)" font-size="10.2" font-weight="bold" text-anchor="end" fill="#000" font-family='"Liberation Sans", sans-serif' >3.0</text>
<line x1="516.80" y1="387.67" x2="520.00" y2="387.67" stroke="#000" stroke-width="1.1"/>
<line x1="516.80" y1="352.61" x2="520.00" y2="352.61" stroke="#000" stroke-width="1.1"/>
<line x1="516.80" y1="317.55" x2="520.00" y2="317.55" stroke="#000" stroke-width="1.1"/>
<line x1="516.80" y1="282.49" x2="520.00" y2="282.49" stroke="#000" stroke-width="1.1"/>
<line x1="516.80" y1="247.43" x2="520.00" y2="247.43" stroke="#000" stroke-width="1.1"/>
<line x1="516.80" y1="405.20" x2="518.60" y2="405.20" stroke="#000" stroke-width="1.1"/>
<line x1="516.80" y1="370.14" x2="518.60" y2="370.14" stroke="#000" stroke-width="1.1"/>
<line x1="516.80" y1="335.08" x2="518.60" y2="335.08" stroke="#000" stroke-width="1.1"/>
<line x1="516.80" y1="300.02" x2="518.60" y2="300.02" stroke="#000" stroke-width="1.1"/>
<line x1="516.80" y1="264.96" x2="518.60" y2="264.96" stroke="#000" stroke-width="1.1"/>
<line x1="516.80" y1="229.90" x2="518.60" y2="229.90" stroke="#000" stroke-width="1.1"/>
<text transform="translate(521.50 391.17) scale(0.9 1)" font-size="9.9" font-weight="bold" text-anchor="start" fill="#000" font-family='"Liberation Sans", sans-serif' >0</text>
<text transform="translate(521.50 356.11) scale(0.9 1)" font-size="9.9" font-weight="bold" text-anchor="start" fill="#000" font-family='"Liberation Sans", sans-serif' >20</text>
<text transform="translate(521.50 321.05) scale(0.9 1)" font-size="9.9" font-weight="bold" text-anchor="start" fill="#000" font-family='"Liberation Sans", sans-serif' >40</text>
<text transform="translate(521.50 285.99) scale(0.9 1)" font-size="9.9" font-weight="bold" text-anchor="start" fill="#000" font-family='"Liberation Sans", sans-serif' >60</text>
<text transform="translate(521.50 250.93) scale(0.9 1)" font-size="9.9" font-weight="bold" text-anchor="start" fill="#000" font-family='"Liberation Sans", sans-serif' >80</text>
<text x="419.80" y="433.90" font-size="10" font-weight="bold" text-anchor="middle" fill="#000" font-family='"Liberation Sans", sans-serif' >log f (Hz)</text>
<text transform="translate(304.8 318.2) rotate(-90)" font-size="10" font-weight="bold" text-anchor="middle" font-family='"Liberation Sans", sans-serif'>log <tspan font-style="italic">/Z/</tspan> (Ω cm<tspan font-size="8.5" dy="-4">2</tspan><tspan dy="4">)</tspan></text>
<text transform="translate(543 318) rotate(-90)" font-size="11" font-weight="bold" text-anchor="middle" font-family='"Liberation Sans", sans-serif'>Phase angle (deg.)</text>
<text transform="translate(417.30 243.70) scale(0.93 1)" font-size="9.3" font-weight="bold" text-anchor="middle" fill="#000" font-family='"Liberation Sans", sans-serif' >0.3% Chi-AgNPs</text>
<rect x="434" y="247" width="35.4" height="25.4" fill="#fff" stroke="#222" stroke-width="1.2"/>
<text x="451.70" y="265.55" font-size="15" font-weight="bold" text-anchor="middle" fill="#000" font-family='"Liberation Serif", serif' >(d)</text>
<rect x="474.2" y="232.2" width="40.9" height="38.9" fill="#fff" stroke="#999" stroke-width="0.9"/>
<line x1="475.2" y1="239.7" x2="493.8" y2="239.7" stroke="#888" stroke-width="0.9"/>
<rect x="482.85" y="238.05" width="3.30" height="3.30" fill="#000"/>
<text transform="translate(495.80 242.80) scale(0.9 1)" font-size="8.6" font-weight="bold" text-anchor="start" fill="#000" font-family='"Liberation Sans", sans-serif' >25°C</text>
<line x1="475.2" y1="252.5" x2="493.8" y2="252.5" stroke="#f77" stroke-width="0.9"/>
<circle cx="484.50" cy="252.50" r="1.98" fill="#f00"/>
<text transform="translate(495.80 255.60) scale(0.9 1)" font-size="8.6" font-weight="bold" text-anchor="start" fill="#000" font-family='"Liberation Sans", sans-serif' >40°C</text>
<line x1="475.2" y1="264.9" x2="493.8" y2="264.9" stroke="#99f" stroke-width="0.9"/>
<path d="M484.50 262.49L486.81 266.65L482.19 266.65Z" fill="#00f"/>
<text transform="translate(495.80 268.00) scale(0.9 1)" font-size="8.6" font-weight="bold" text-anchor="start" fill="#000" font-family='"Liberation Sans", sans-serif' >60°C</text>
<path d="M336.5 265.4 L328 265.4" stroke="#000" stroke-width="1.2"/><path d="M327 265.4 L334 262.6 L334 268.2Z" fill="#000"/>
<path d="M430 281.8 L510 281.8" stroke="#000" stroke-width="1.2"/><path d="M516.2 281.8 L509 279 L509 284.6Z" fill="#000"/>
</svg></body></html>
